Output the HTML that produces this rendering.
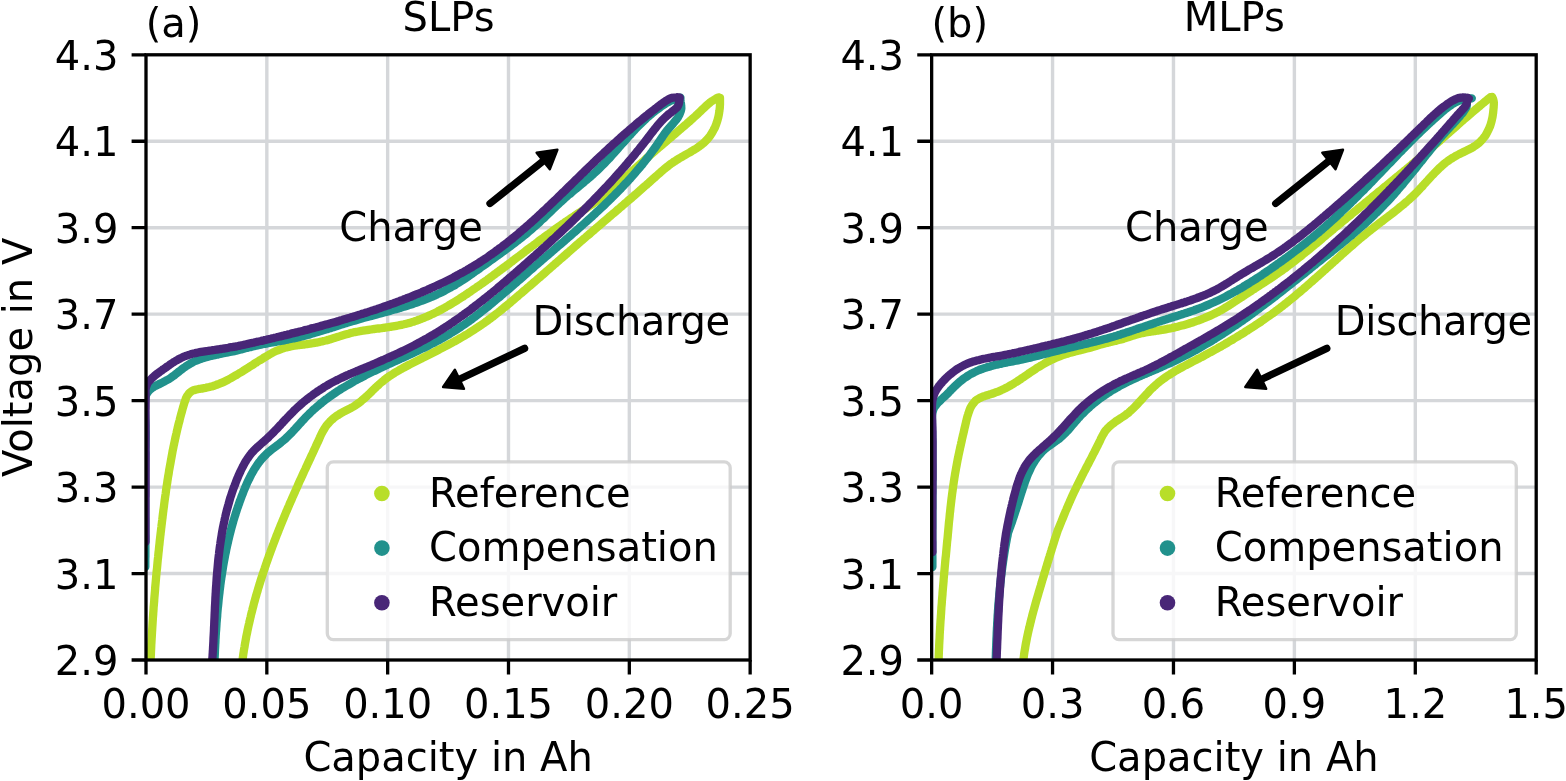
<!DOCTYPE html>
<html lang="en"><head><meta charset="utf-8"><title>Voltage curves of SLPs and MLPs</title>
<style>html,body{margin:0;padding:0;background:#fff}body{width:1566px;height:781px;overflow:hidden}svg{display:block}text{font-family:'DejaVu Sans', 'Liberation Sans', sans-serif;font-size:40px;fill:#000}</style>
</head><body>
<svg width="1566" height="781" viewBox="0 0 1566 781">
<rect width="1566" height="781" fill="#fff"/>
<g>
<clipPath id="clip0"><rect x="146.00" y="54.80" width="604.15" height="605.20"/></clipPath>
<path d="M266.83 54.80V660.00M387.66 54.80V660.00M508.49 54.80V660.00M629.32 54.80V660.00M146.00 141.26H750.15M146.00 227.71H750.15M146.00 314.17H750.15M146.00 400.63H750.15M146.00 487.09H750.15M146.00 573.54H750.15" stroke="#d5d7da" stroke-width="3.4" fill="none"/>
<g clip-path="url(#clip0)" fill="none" stroke-linecap="round" stroke-linejoin="round">
<path d="M150.3 667.8C150.3 667.3 150.4 665.6 150.4 664.5C150.5 663.4 150.5 662.3 150.6 661.2C150.6 660.1 150.7 659.0 150.7 657.9C150.8 656.8 150.8 655.6 150.9 654.5C150.9 653.4 151.0 652.3 151.0 651.2C151.1 650.1 151.1 649.0 151.2 647.9C151.2 646.8 151.3 645.7 151.3 644.5C151.4 643.4 151.5 642.3 151.5 641.2C151.6 640.1 151.6 639.0 151.7 637.9C151.8 636.7 151.8 635.6 151.9 634.5C152.0 633.4 152.0 632.3 152.1 631.2C152.2 630.1 152.2 628.9 152.3 627.8C152.4 626.7 152.4 625.6 152.5 624.5C152.6 623.4 152.6 622.2 152.7 621.1C152.8 620.0 152.9 618.9 152.9 617.8C153.0 616.7 153.1 615.5 153.2 614.4C153.2 613.3 153.3 612.2 153.4 611.1C153.5 609.9 153.6 608.8 153.6 607.7C153.7 606.6 153.8 605.5 153.9 604.3C154.0 603.2 154.1 602.1 154.2 601.0C154.2 599.9 154.3 598.7 154.4 597.6C154.5 596.5 154.6 595.4 154.7 594.2C154.8 593.1 154.9 592.0 155.0 590.9C155.1 589.8 155.1 588.6 155.2 587.5C155.3 586.4 155.4 585.3 155.5 584.1C155.6 583.0 155.7 581.9 155.8 580.8C155.9 579.7 156.0 578.5 156.1 577.4C156.2 576.3 156.3 575.2 156.4 574.0C156.5 572.9 156.6 571.8 156.7 570.7C156.9 569.6 157.0 568.4 157.1 567.3C157.2 566.2 157.3 565.1 157.4 563.9C157.5 562.8 157.6 561.7 157.7 560.6C157.8 559.4 157.9 558.3 158.1 557.2C158.2 556.1 158.3 555.0 158.4 553.8C158.5 552.7 158.6 551.6 158.8 550.5C158.9 549.3 159.0 548.2 159.1 547.1C159.2 546.0 159.4 544.9 159.5 543.7C159.6 542.6 159.7 541.5 159.8 540.4C160.0 539.2 160.1 538.1 160.2 537.0C160.3 535.9 160.5 534.8 160.6 533.6C160.7 532.5 160.9 531.4 161.0 530.3C161.1 529.2 161.2 528.0 161.4 526.9C161.5 525.8 161.6 524.7 161.8 523.6C161.9 522.4 162.0 521.3 162.2 520.2C162.3 519.1 162.5 518.0 162.6 516.8C162.7 515.7 162.9 514.6 163.0 513.5C163.1 512.4 163.3 511.3 163.4 510.1C163.6 509.0 163.7 507.9 163.9 506.8C164.0 505.7 164.1 504.6 164.3 503.4C164.4 502.3 164.6 501.2 164.7 500.1C164.9 499.0 165.0 497.9 165.2 496.7C165.3 495.6 165.5 494.5 165.7 493.4C165.8 492.3 166.0 491.2 166.1 490.1C166.3 488.9 166.4 487.8 166.6 486.7C166.8 485.6 166.9 484.5 167.1 483.4C167.3 482.3 167.4 481.2 167.6 480.0C167.8 478.9 168.0 477.8 168.1 476.7C168.3 475.6 168.5 474.5 168.7 473.4C168.9 472.3 169.0 471.2 169.2 470.1C169.4 468.9 169.6 467.8 169.8 466.7C170.0 465.6 170.2 464.5 170.4 463.4C170.6 462.3 170.8 461.2 171.0 460.1C171.2 459.0 171.4 457.9 171.6 456.7C171.8 455.6 172.0 454.5 172.2 453.4C172.4 452.3 172.6 451.2 172.8 450.1C173.1 449.0 173.3 447.9 173.5 446.8C173.7 445.7 174.0 444.6 174.2 443.5C174.4 442.4 174.7 441.3 174.9 440.2C175.1 439.1 175.4 438.0 175.6 436.8C175.9 435.7 176.1 434.6 176.4 433.5C176.6 432.4 176.9 431.3 177.1 430.2C177.4 429.1 177.6 428.0 177.9 426.9C178.2 425.8 178.4 424.7 178.7 423.6C179.0 422.5 179.3 421.4 179.6 420.3C179.8 419.2 180.1 418.1 180.4 417.0C180.7 415.9 181.0 414.8 181.3 413.7C181.6 412.6 181.9 411.5 182.2 410.4C182.5 409.3 182.8 408.2 183.1 407.1C183.4 406.0 183.8 404.9 184.1 403.8C184.4 402.7 184.8 401.7 185.2 400.6C185.5 399.5 185.8 398.4 186.3 397.4C186.7 396.4 187.3 395.5 188.0 394.7C188.6 393.9 189.3 393.1 190.1 392.4C190.9 391.7 191.7 391.0 192.7 390.6C193.7 390.1 195.0 389.9 196.1 389.6C197.2 389.3 198.4 389.1 199.5 388.8C200.6 388.6 201.8 388.5 202.9 388.3C204.0 388.1 205.1 388.0 206.2 387.7C207.3 387.5 208.4 387.3 209.5 387.0C210.5 386.7 211.6 386.5 212.7 386.2C213.8 385.8 214.8 385.5 215.8 385.1C216.9 384.7 217.9 384.3 219.0 383.9C220.0 383.5 221.0 383.1 222.1 382.6C223.1 382.2 224.1 381.7 225.1 381.2C226.1 380.7 227.1 380.2 228.1 379.7C229.1 379.1 230.1 378.6 231.1 378.1C232.1 377.5 233.1 377.0 234.0 376.4C235.0 375.8 236.0 375.3 236.9 374.7C237.9 374.1 238.9 373.5 239.8 372.9C240.8 372.4 241.7 371.8 242.7 371.2C243.6 370.6 244.6 370.0 245.5 369.4C246.5 368.8 247.4 368.2 248.4 367.6C249.3 367.0 250.2 366.4 251.2 365.8C252.1 365.2 253.1 364.6 254.0 364.0C254.9 363.4 255.9 362.8 256.8 362.2C257.8 361.6 258.7 361.0 259.6 360.4C260.6 359.8 261.5 359.3 262.5 358.7C263.4 358.1 264.4 357.5 265.4 356.9C266.3 356.3 267.3 355.8 268.3 355.2C269.2 354.6 270.2 354.1 271.2 353.5C272.2 353.0 273.2 352.4 274.2 351.9C275.2 351.4 276.2 350.9 277.2 350.5C278.3 350.1 279.3 349.7 280.3 349.3C281.4 348.9 282.4 348.5 283.5 348.2C284.5 347.9 285.6 347.6 286.7 347.3C287.8 347.1 288.9 346.8 289.9 346.6C291.0 346.4 292.1 346.1 293.2 345.9C294.3 345.8 295.4 345.6 296.5 345.4C297.6 345.3 298.7 345.1 299.8 345.0C301.0 344.8 302.1 344.7 303.2 344.5C304.3 344.4 305.4 344.2 306.5 344.1C307.6 343.9 308.7 343.8 309.9 343.6C311.0 343.5 312.1 343.3 313.2 343.2C314.3 343.0 315.4 342.8 316.5 342.6C317.6 342.4 318.7 342.2 319.8 341.9C320.8 341.7 321.9 341.5 323.0 341.2C324.1 341.0 325.2 340.7 326.2 340.4C327.3 340.1 328.4 339.8 329.4 339.5C330.5 339.1 331.6 338.8 332.6 338.5C333.7 338.2 334.7 337.8 335.8 337.5C336.9 337.2 337.9 336.8 339.0 336.5C340.0 336.2 341.1 335.8 342.2 335.5C343.2 335.2 344.3 334.9 345.3 334.6C346.4 334.3 347.5 334.0 348.6 333.7C349.6 333.4 350.7 333.1 351.8 332.8C352.8 332.6 353.9 332.4 355.0 332.1C356.1 331.9 357.2 331.7 358.3 331.5C359.4 331.2 360.5 331.0 361.6 330.8C362.7 330.7 363.8 330.5 364.9 330.3C366.0 330.1 367.1 330.0 368.2 329.8C369.3 329.7 370.4 329.5 371.5 329.4C372.6 329.2 373.8 329.1 374.9 328.9C376.0 328.8 377.1 328.6 378.2 328.5C379.3 328.4 380.4 328.2 381.5 328.1C382.6 327.9 383.8 327.8 384.9 327.6C386.0 327.5 387.1 327.3 388.2 327.2C389.3 327.0 390.4 326.9 391.5 326.7C392.6 326.5 393.7 326.3 394.8 326.1C395.9 325.9 397.0 325.7 398.1 325.5C399.2 325.3 400.3 325.1 401.4 324.9C402.5 324.6 403.6 324.4 404.6 324.1C405.7 323.8 406.8 323.6 407.9 323.3C408.9 323.0 410.0 322.7 411.1 322.4C412.2 322.1 413.2 321.7 414.3 321.4C415.3 321.0 416.4 320.7 417.4 320.3C418.5 319.9 419.5 319.6 420.6 319.2C421.6 318.8 422.7 318.3 423.7 317.9C424.7 317.5 425.8 317.1 426.8 316.6C427.8 316.2 428.9 315.8 429.9 315.3C430.9 314.8 431.9 314.3 433.0 313.8C434.0 313.4 435.0 312.9 436.0 312.4C437.0 311.9 438.0 311.3 439.0 310.8C440.0 310.3 441.0 309.7 442.0 309.2C443.0 308.7 444.0 308.1 445.0 307.6C446.0 307.0 447.0 306.4 448.0 305.9C448.9 305.3 449.9 304.7 450.9 304.1C451.9 303.5 452.8 302.9 453.8 302.4C454.8 301.8 455.7 301.2 456.7 300.6C457.7 300.0 458.6 299.3 459.6 298.7C460.5 298.1 461.5 297.5 462.4 296.9C463.4 296.3 464.3 295.6 465.3 295.0C466.2 294.4 467.2 293.8 468.1 293.1C469.0 292.5 470.0 291.9 470.9 291.2C471.9 290.6 472.8 290.0 473.7 289.3C474.6 288.7 475.6 288.0 476.5 287.4C477.4 286.7 478.3 286.1 479.3 285.5C480.2 284.8 481.1 284.2 482.0 283.5C482.9 282.9 483.8 282.2 484.8 281.5C485.7 280.9 486.6 280.2 487.5 279.6C488.4 278.9 489.3 278.3 490.2 277.6C491.1 276.9 492.0 276.3 492.9 275.6C493.8 275.0 494.7 274.3 495.6 273.6C496.5 273.0 497.4 272.3 498.3 271.6C499.2 271.0 500.1 270.3 501.0 269.6C501.9 269.0 502.8 268.3 503.7 267.6C504.6 266.9 505.5 266.3 506.4 265.6C507.3 264.9 508.2 264.3 509.1 263.6C510.0 262.9 510.9 262.2 511.8 261.6C512.7 260.9 513.5 260.2 514.4 259.5C515.3 258.9 516.2 258.2 517.1 257.5C518.0 256.8 518.9 256.2 519.8 255.5C520.7 254.8 521.6 254.1 522.5 253.5C523.3 252.8 524.2 252.1 525.1 251.4C526.0 250.8 526.9 250.1 527.8 249.4C528.7 248.7 529.6 248.1 530.5 247.4C531.4 246.7 532.3 246.0 533.2 245.4C534.1 244.7 535.0 244.0 535.9 243.4C536.8 242.7 537.6 242.0 538.5 241.3C539.4 240.7 540.3 240.0 541.2 239.3C542.1 238.7 543.1 238.0 544.0 237.3C544.9 236.7 545.8 236.0 546.7 235.3C547.6 234.7 548.5 234.0 549.4 233.4C550.3 232.7 551.2 232.0 552.1 231.4C553.0 230.7 554.0 230.0 554.9 229.4C555.8 228.7 556.7 228.1 557.6 227.4C558.5 226.8 559.5 226.1 560.4 225.5C561.3 224.8 562.2 224.2 563.2 223.5C564.1 222.9 565.0 222.2 566.0 221.6C566.9 221.0 567.8 220.3 568.8 219.7C569.7 219.0 570.7 218.4 571.6 217.8C572.5 217.2 573.5 216.5 574.4 215.9C575.4 215.3 576.3 214.7 577.3 214.0C578.2 213.4 579.2 212.8 580.1 212.2C581.1 211.6 582.1 210.9 583.0 210.3C584.0 209.7 584.9 209.1 585.9 208.5C586.8 207.8 587.8 207.2 588.7 206.6C589.7 206.0 590.6 205.3 591.5 204.7C592.5 204.1 593.4 203.4 594.3 202.8C595.3 202.2 596.2 201.5 597.1 200.9C598.1 200.2 599.0 199.6 599.9 198.9C600.8 198.3 601.7 197.6 602.6 196.9C603.5 196.3 604.5 195.6 605.3 194.9C606.2 194.2 607.1 193.5 608.0 192.8C608.9 192.1 609.7 191.4 610.6 190.7C611.5 190.0 612.3 189.3 613.2 188.5C614.0 187.8 614.9 187.1 615.7 186.3C616.6 185.6 617.4 184.8 618.2 184.1C619.1 183.4 619.9 182.6 620.7 181.9C621.6 181.1 622.4 180.3 623.2 179.6C624.0 178.8 624.8 178.1 625.7 177.3C626.5 176.6 627.3 175.8 628.1 175.1C628.9 174.3 629.7 173.6 630.5 172.8C631.3 172.1 632.2 171.3 633.0 170.6C633.8 169.8 634.6 169.1 635.4 168.3C636.2 167.6 637.0 166.8 637.9 166.1C638.7 165.4 639.5 164.6 640.3 163.9C641.1 163.2 642.0 162.4 642.8 161.7C643.6 161.0 644.4 160.2 645.3 159.5C646.1 158.8 646.9 158.1 647.7 157.3C648.6 156.6 649.4 155.9 650.2 155.2C651.1 154.4 651.9 153.7 652.7 153.0C653.6 152.3 654.4 151.5 655.2 150.8C656.1 150.1 656.9 149.4 657.7 148.7C658.6 147.9 659.4 147.2 660.3 146.5C661.1 145.8 662.0 145.0 662.8 144.3C663.7 143.6 664.5 142.9 665.4 142.1C666.2 141.4 667.1 140.7 667.9 140.0C668.8 139.2 669.6 138.5 670.5 137.8C671.4 137.0 672.2 136.3 673.1 135.5C673.9 134.8 674.8 134.1 675.7 133.3C676.5 132.6 677.4 131.9 678.2 131.1C679.1 130.4 679.9 129.7 680.8 128.9C681.7 128.2 682.5 127.5 683.4 126.7C684.2 126.0 685.1 125.3 685.9 124.5C686.7 123.8 687.6 123.1 688.4 122.3C689.3 121.6 690.1 120.8 690.9 120.1C691.8 119.3 692.6 118.6 693.4 117.9C694.2 117.1 695.1 116.4 695.9 115.6C696.7 114.9 697.5 114.1 698.3 113.4C699.1 112.6 699.9 111.8 700.7 111.1C701.5 110.3 702.3 109.6 703.0 108.8C703.8 108.1 704.6 107.3 705.4 106.6C706.2 105.8 707.0 105.1 707.8 104.4C708.6 103.7 709.4 103.0 710.2 102.4C711.0 101.7 711.9 101.2 712.8 100.6C713.7 100.1 714.6 99.5 715.6 99.0C716.5 98.4 718.0 97.6 718.5 97.3" stroke="#b8de29" stroke-width="8.3"/>
<path d="M720.0 97.8C720.0 98.4 720.0 100.0 720.0 101.1C720.0 102.2 720.0 103.3 720.0 104.4C719.9 105.5 719.9 106.7 719.8 107.8C719.7 108.9 719.5 110.0 719.4 111.1C719.2 112.2 719.1 113.2 718.9 114.3C718.7 115.4 718.5 116.5 718.2 117.6C718.0 118.7 717.6 119.7 717.3 120.8C717.0 121.9 716.6 122.9 716.3 124.0C715.9 125.0 715.5 126.0 715.1 127.1C714.6 128.1 714.1 129.0 713.6 130.0C713.1 131.0 712.5 131.9 712.0 132.9C711.4 133.8 710.9 134.8 710.2 135.7C709.6 136.6 708.9 137.4 708.2 138.2C707.4 139.1 706.7 139.9 705.9 140.7C705.2 141.5 704.4 142.2 703.6 143.0C702.7 143.7 701.8 144.4 700.9 145.1C700.1 145.7 699.1 146.4 698.2 147.1C697.3 147.7 696.4 148.4 695.4 149.0C694.4 149.6 693.4 150.2 692.4 150.8C691.4 151.4 690.5 152.0 689.4 152.6C688.4 153.1 687.4 153.7 686.4 154.3C685.4 154.9 684.4 155.4 683.4 156.0C682.4 156.6 681.4 157.2 680.4 157.8C679.4 158.4 678.3 158.9 677.4 159.5C676.4 160.2 675.4 160.8 674.5 161.4C673.5 162.0 672.6 162.7 671.7 163.3C670.8 164.0 669.8 164.6 668.9 165.3C668.1 166.0 667.2 166.7 666.3 167.4C665.5 168.1 664.6 168.8 663.7 169.5C662.9 170.2 662.0 171.0 661.2 171.7C660.4 172.4 659.5 173.2 658.7 173.9C657.9 174.6 657.0 175.4 656.2 176.1C655.4 176.8 654.6 177.6 653.7 178.3C652.9 179.1 652.1 179.8 651.2 180.5C650.4 181.3 649.6 182.0 648.8 182.8C647.9 183.5 647.1 184.2 646.3 185.0C645.4 185.7 644.6 186.4 643.7 187.2C642.9 187.9 642.1 188.6 641.2 189.4C640.4 190.1 639.6 190.8 638.7 191.6C637.9 192.3 637.1 193.0 636.2 193.8C635.4 194.5 634.5 195.2 633.7 196.0C632.8 196.7 632.0 197.4 631.2 198.2C630.3 198.9 629.5 199.6 628.6 200.3C627.8 201.1 626.9 201.8 626.1 202.5C625.3 203.3 624.4 204.0 623.6 204.7C622.7 205.4 621.9 206.2 621.0 206.9C620.2 207.6 619.3 208.4 618.5 209.1C617.6 209.8 616.8 210.5 615.9 211.3C615.1 212.0 614.3 212.7 613.4 213.4C612.6 214.2 611.7 214.9 610.9 215.6C610.0 216.3 609.2 217.1 608.3 217.8C607.5 218.5 606.6 219.3 605.8 220.0C604.9 220.7 604.1 221.4 603.2 222.2C602.4 222.9 601.5 223.6 600.7 224.3C599.8 225.1 599.0 225.8 598.1 226.5C597.3 227.2 596.4 228.0 595.6 228.7C594.7 229.4 593.9 230.2 593.0 230.9C592.2 231.6 591.3 232.3 590.5 233.1C589.6 233.8 588.8 234.5 588.0 235.3C587.1 236.0 586.3 236.7 585.4 237.5C584.6 238.2 583.7 238.9 582.9 239.6C582.0 240.4 581.2 241.1 580.3 241.8C579.5 242.6 578.7 243.3 577.8 244.0C577.0 244.8 576.1 245.5 575.3 246.2C574.4 247.0 573.6 247.7 572.7 248.5C571.9 249.2 571.1 249.9 570.2 250.7C569.4 251.4 568.5 252.1 567.7 252.9C566.8 253.6 566.0 254.3 565.2 255.1C564.3 255.8 563.5 256.5 562.6 257.3C561.8 258.0 560.9 258.8 560.1 259.5C559.3 260.2 558.4 261.0 557.6 261.7C556.7 262.4 555.9 263.2 555.0 263.9C554.2 264.7 553.4 265.4 552.5 266.1C551.7 266.9 550.8 267.6 550.0 268.3C549.1 269.1 548.3 269.8 547.5 270.5C546.6 271.3 545.8 272.0 544.9 272.8C544.1 273.5 543.2 274.2 542.4 275.0C541.5 275.7 540.7 276.4 539.9 277.2C539.0 277.9 538.2 278.6 537.3 279.4C536.5 280.1 535.6 280.8 534.8 281.6C533.9 282.3 533.1 283.0 532.2 283.8C531.4 284.5 530.5 285.2 529.7 286.0C528.8 286.7 528.0 287.4 527.1 288.2C526.3 288.9 525.4 289.6 524.6 290.4C523.7 291.1 522.9 291.8 522.0 292.6C521.2 293.3 520.3 294.0 519.5 294.7C518.6 295.5 517.7 296.2 516.9 296.9C516.0 297.7 515.2 298.4 514.3 299.1C513.5 299.8 512.6 300.6 511.7 301.3C510.9 302.0 510.0 302.7 509.2 303.5C508.3 304.2 507.4 304.9 506.6 305.6C505.7 306.3 504.8 307.0 504.0 307.7C503.1 308.5 502.2 309.2 501.4 309.9C500.5 310.6 499.6 311.3 498.7 312.0C497.9 312.7 497.0 313.3 496.1 314.0C495.2 314.7 494.3 315.4 493.5 316.1C492.6 316.8 491.7 317.4 490.8 318.1C489.9 318.8 489.0 319.4 488.1 320.1C487.2 320.8 486.3 321.4 485.4 322.1C484.5 322.7 483.6 323.4 482.6 324.0C481.7 324.7 480.8 325.3 479.9 325.9C479.0 326.6 478.1 327.2 477.1 327.8C476.2 328.4 475.3 329.0 474.3 329.6C473.4 330.2 472.4 330.8 471.5 331.4C470.6 332.0 469.6 332.6 468.7 333.2C467.7 333.8 466.8 334.4 465.8 334.9C464.8 335.5 463.9 336.1 462.9 336.6C462.0 337.2 461.0 337.8 460.0 338.3C459.1 338.9 458.1 339.4 457.1 340.0C456.1 340.5 455.2 341.0 454.2 341.6C453.2 342.1 452.2 342.7 451.2 343.2C450.3 343.7 449.3 344.3 448.3 344.8C447.3 345.3 446.3 345.8 445.3 346.3C444.3 346.9 443.4 347.4 442.4 347.9C441.4 348.4 440.4 348.9 439.4 349.4C438.4 350.0 437.4 350.5 436.4 351.0C435.4 351.5 434.4 352.0 433.4 352.5C432.4 353.0 431.4 353.5 430.4 354.0C429.4 354.5 428.4 355.0 427.4 355.5C426.4 356.0 425.4 356.5 424.4 357.0C423.4 357.5 422.4 358.0 421.4 358.6C420.4 359.1 419.4 359.6 418.4 360.1C417.4 360.6 416.4 361.1 415.4 361.6C414.4 362.1 413.4 362.6 412.4 363.1C411.4 363.6 410.4 364.1 409.4 364.6C408.4 365.2 407.4 365.7 406.4 366.2C405.4 366.7 404.4 367.3 403.4 367.8C402.4 368.3 401.5 368.9 400.5 369.4C399.5 370.0 398.5 370.5 397.6 371.1C396.6 371.6 395.7 372.2 394.7 372.8C393.8 373.4 392.8 374.0 391.9 374.6C391.0 375.2 390.0 375.8 389.1 376.4C388.2 377.1 387.3 377.7 386.4 378.4C385.5 379.1 384.6 379.7 383.8 380.4C382.9 381.1 382.0 381.8 381.2 382.5C380.3 383.3 379.5 384.0 378.7 384.8C377.9 385.5 377.0 386.3 376.2 387.0C375.4 387.8 374.6 388.6 373.8 389.4C373.0 390.1 372.2 390.9 371.4 391.7C370.6 392.5 369.8 393.3 369.0 394.1C368.2 394.8 367.4 395.6 366.6 396.4C365.7 397.1 364.9 397.9 364.1 398.6C363.2 399.3 362.4 400.1 361.5 400.8C360.7 401.5 359.8 402.2 358.9 402.9C358.1 403.5 357.1 404.2 356.2 404.8C355.3 405.4 354.3 406.0 353.4 406.6C352.4 407.1 351.5 407.7 350.5 408.2C349.5 408.8 348.5 409.3 347.5 409.8C346.5 410.3 345.5 410.8 344.5 411.3C343.5 411.9 342.4 412.4 341.5 412.9C340.5 413.5 339.5 414.1 338.6 414.7C337.7 415.3 336.7 415.9 335.8 416.5C334.9 417.2 334.0 417.8 333.2 418.6C332.3 419.3 331.5 420.1 330.7 420.8C330.0 421.6 329.2 422.4 328.5 423.2C327.7 424.1 327.0 424.9 326.3 425.8C325.6 426.7 325.1 427.6 324.5 428.6C323.9 429.5 323.3 430.5 322.8 431.5C322.2 432.5 321.7 433.5 321.2 434.5C320.7 435.5 320.2 436.6 319.8 437.6C319.3 438.7 318.8 439.7 318.4 440.8C317.9 441.8 317.4 442.8 316.9 443.9C316.5 444.9 316.0 445.9 315.5 447.0C315.0 448.0 314.6 449.0 314.1 450.1C313.6 451.1 313.1 452.1 312.7 453.1C312.2 454.2 311.7 455.2 311.2 456.2C310.8 457.2 310.3 458.3 309.8 459.3C309.3 460.3 308.9 461.3 308.4 462.3C307.9 463.4 307.5 464.4 307.0 465.4C306.5 466.4 306.0 467.4 305.6 468.5C305.1 469.5 304.6 470.5 304.1 471.5C303.7 472.5 303.2 473.6 302.7 474.6C302.3 475.6 301.8 476.6 301.3 477.7C300.9 478.7 300.4 479.7 299.9 480.7C299.5 481.8 299.0 482.8 298.5 483.8C298.1 484.8 297.6 485.9 297.2 486.9C296.7 487.9 296.2 489.0 295.8 490.0C295.3 491.0 294.9 492.1 294.4 493.1C293.9 494.1 293.5 495.1 293.0 496.2C292.6 497.2 292.1 498.2 291.7 499.3C291.2 500.3 290.8 501.4 290.3 502.4C289.9 503.4 289.4 504.5 289.0 505.5C288.5 506.5 288.1 507.6 287.6 508.6C287.2 509.7 286.8 510.7 286.3 511.7C285.9 512.8 285.5 513.8 285.0 514.9C284.6 515.9 284.1 516.9 283.7 518.0C283.3 519.0 282.8 520.1 282.4 521.1C282.0 522.2 281.6 523.2 281.1 524.3C280.7 525.3 280.3 526.3 279.9 527.4C279.4 528.4 279.0 529.5 278.6 530.5C278.2 531.6 277.8 532.6 277.4 533.7C276.9 534.7 276.5 535.8 276.1 536.8C275.7 537.9 275.3 539.0 274.9 540.0C274.5 541.1 274.1 542.1 273.7 543.2C273.3 544.2 272.9 545.3 272.5 546.3C272.1 547.4 271.7 548.4 271.3 549.5C270.9 550.6 270.5 551.6 270.2 552.7C269.8 553.7 269.4 554.8 269.0 555.9C268.6 556.9 268.3 558.0 267.9 559.0C267.5 560.1 267.1 561.2 266.8 562.2C266.4 563.3 266.0 564.3 265.7 565.4C265.3 566.5 264.9 567.5 264.6 568.6C264.2 569.7 263.9 570.7 263.5 571.8C263.2 572.9 262.8 573.9 262.5 575.0C262.1 576.1 261.8 577.1 261.4 578.2C261.1 579.3 260.7 580.4 260.4 581.4C260.1 582.5 259.7 583.6 259.4 584.6C259.1 585.7 258.8 586.8 258.4 587.9C258.1 588.9 257.8 590.0 257.5 591.1C257.2 592.2 256.8 593.2 256.5 594.3C256.2 595.4 255.9 596.5 255.6 597.5C255.3 598.6 255.0 599.7 254.7 600.8C254.4 601.9 254.1 602.9 253.8 604.0C253.6 605.1 253.3 606.2 253.0 607.3C252.7 608.3 252.4 609.4 252.2 610.5C251.9 611.6 251.6 612.7 251.3 613.8C251.1 614.8 250.8 615.9 250.6 617.0C250.3 618.1 250.1 619.2 249.8 620.3C249.5 621.4 249.3 622.4 249.1 623.5C248.8 624.6 248.6 625.7 248.3 626.8C248.1 627.9 247.9 629.0 247.6 630.1C247.4 631.2 247.2 632.2 247.0 633.3C246.8 634.4 246.5 635.5 246.3 636.6C246.1 637.7 245.9 638.8 245.7 639.9C245.5 641.0 245.3 642.1 245.1 643.2C244.9 644.3 244.7 645.4 244.6 646.5C244.4 647.6 244.2 648.7 244.0 649.8C243.8 650.9 243.7 652.0 243.5 653.1C243.3 654.2 243.2 655.3 243.0 656.4C242.9 657.5 242.7 658.6 242.6 659.7C242.4 660.8 242.3 661.9 242.1 663.0C242.0 664.1 241.8 665.8 241.8 666.3" stroke="#b8de29" stroke-width="8.3"/>
<path d="M145.3 567.0C145.3 566.4 145.3 564.7 145.3 563.6C145.3 562.5 145.3 561.4 145.3 560.3C145.3 559.1 145.3 558.0 145.4 556.9C145.4 555.8 145.4 554.6 145.4 553.5C145.4 552.4 145.4 551.3 145.4 550.1C145.4 549.0 145.4 547.9 145.4 546.8C145.4 545.6 145.4 544.5 145.4 543.4C145.4 542.3 145.4 541.1 145.4 540.0C145.4 538.9 145.4 537.8 145.4 536.7C145.4 535.5 145.3 534.4 145.3 533.3C145.3 532.1 145.3 531.0 145.3 529.9C145.3 528.8 145.3 527.6 145.3 526.5C145.3 525.4 145.3 524.3 145.3 523.1C145.3 522.0 145.3 520.9 145.3 519.8C145.3 518.6 145.3 517.5 145.2 516.4C145.2 515.3 145.2 514.1 145.2 513.0C145.2 511.9 145.2 510.8 145.2 509.6C145.2 508.5 145.2 507.4 145.2 506.3C145.2 505.1 145.2 504.0 145.2 502.9C145.2 501.8 145.2 500.6 145.2 499.5C145.1 498.4 145.1 497.3 145.1 496.1C145.1 495.0 145.1 493.9 145.1 492.8C145.1 491.6 145.1 490.5 145.1 489.4C145.1 488.3 145.1 487.1 145.1 486.0C145.1 484.9 145.1 483.8 145.1 482.6C145.1 481.5 145.1 480.4 145.1 479.3C145.1 478.1 145.1 477.0 145.1 475.9C145.1 474.8 145.1 473.7 145.1 472.5C145.2 471.4 145.2 470.3 145.2 469.2C145.2 468.0 145.2 466.9 145.2 465.8C145.2 464.7 145.2 463.5 145.2 462.4C145.3 461.3 145.3 460.2 145.3 459.1C145.3 457.9 145.3 456.8 145.3 455.7C145.4 454.6 145.4 453.5 145.4 452.3C145.4 451.2 145.4 450.1 145.4 449.0C145.5 447.8 145.5 446.7 145.5 445.6C145.5 444.5 145.5 443.4 145.5 442.2C145.5 441.1 145.6 440.0 145.6 438.9C145.6 437.7 145.6 436.6 145.6 435.5C145.6 434.4 145.6 433.2 145.6 432.1C145.6 431.0 145.5 429.9 145.5 428.7C145.5 427.6 145.5 426.5 145.5 425.4C145.4 424.2 145.4 423.1 145.4 422.0C145.3 420.8 145.3 419.7 145.2 418.6C145.2 417.5 145.1 416.3 145.1 415.2C145.0 414.1 145.0 412.9 145.0 411.8C144.9 410.7 144.9 409.5 144.9 408.4C144.9 407.3 144.8 406.1 144.8 405.0C144.9 403.9 144.9 402.7 145.0 401.6C145.1 400.5 145.2 399.4 145.4 398.3C145.6 397.2 145.6 396.1 146.0 395.1C146.4 394.1 147.1 393.2 147.7 392.3C148.3 391.5 149.0 390.7 149.8 389.9C150.6 389.1 151.4 388.4 152.3 387.7C153.2 387.1 154.3 386.6 155.3 386.0C156.3 385.5 157.3 385.0 158.3 384.5C159.4 383.9 160.5 383.5 161.5 383.0C162.5 382.5 163.6 382.0 164.6 381.4C165.6 380.9 166.6 380.4 167.6 379.8C168.6 379.2 169.5 378.6 170.5 378.0C171.4 377.4 172.3 376.7 173.2 376.0C174.1 375.4 174.9 374.7 175.8 374.0C176.7 373.3 177.6 372.6 178.5 371.9C179.4 371.2 180.2 370.5 181.1 369.9C182.0 369.2 182.9 368.5 183.8 367.8C184.8 367.2 185.7 366.5 186.6 365.9C187.5 365.2 188.5 364.7 189.5 364.1C190.4 363.5 191.4 363.0 192.4 362.5C193.4 361.9 194.4 361.4 195.4 361.0C196.5 360.5 197.5 360.1 198.6 359.8C199.7 359.4 200.7 359.0 201.8 358.6C202.9 358.3 203.9 357.9 205.0 357.6C206.1 357.3 207.2 357.0 208.3 356.7C209.4 356.5 210.5 356.2 211.5 355.9C212.6 355.7 213.7 355.4 214.8 355.2C215.9 354.9 217.0 354.7 218.1 354.4C219.2 354.2 220.3 354.0 221.4 353.7C222.5 353.5 223.6 353.3 224.7 353.0C225.8 352.8 226.9 352.6 228.0 352.4C229.1 352.2 230.2 351.9 231.3 351.7C232.4 351.5 233.6 351.3 234.7 351.1C235.7 350.8 236.8 350.5 237.9 350.2C239.0 349.9 240.1 349.6 241.2 349.4C242.3 349.1 243.4 348.8 244.5 348.5C245.5 348.2 246.6 348.0 247.7 347.7C248.8 347.4 249.9 347.2 251.0 346.9C252.1 346.6 253.2 346.4 254.3 346.1C255.4 345.9 256.5 345.6 257.6 345.4C258.7 345.2 259.8 344.9 260.9 344.7C262.0 344.4 263.1 344.2 264.2 344.0C265.3 343.8 266.4 343.5 267.5 343.3C268.6 343.1 269.7 342.9 270.8 342.7C271.9 342.5 273.0 342.3 274.1 342.1C275.2 341.9 276.3 341.7 277.4 341.5C278.5 341.3 279.6 341.1 280.8 340.9C281.9 340.7 283.0 340.5 284.1 340.3C285.2 340.1 286.3 339.9 287.4 339.7C288.5 339.4 289.6 339.2 290.7 339.0C291.8 338.8 292.9 338.6 294.0 338.3C295.1 338.1 296.2 337.8 297.3 337.6C298.3 337.3 299.4 337.0 300.5 336.8C301.6 336.5 302.7 336.2 303.8 335.9C304.9 335.7 305.9 335.4 307.0 335.1C308.1 334.8 309.2 334.5 310.2 334.2C311.3 333.9 312.4 333.6 313.5 333.2C314.5 332.9 315.6 332.6 316.7 332.3C317.8 332.0 318.8 331.6 319.9 331.3C321.0 331.0 322.0 330.7 323.1 330.3C324.2 330.0 325.2 329.7 326.3 329.3C327.4 329.0 328.5 328.6 329.5 328.3C330.6 328.0 331.7 327.6 332.7 327.3C333.8 327.0 334.9 326.6 335.9 326.3C337.0 325.9 338.1 325.6 339.1 325.3C340.2 324.9 341.3 324.6 342.4 324.3C343.4 323.9 344.5 323.6 345.6 323.3C346.6 322.9 347.7 322.6 348.8 322.3C349.9 322.0 350.9 321.6 352.0 321.3C353.1 321.0 354.2 320.7 355.3 320.4C356.3 320.1 357.4 319.8 358.5 319.4C359.6 319.1 360.7 318.8 361.8 318.5C362.8 318.2 363.9 317.9 365.0 317.6C366.1 317.3 367.2 317.0 368.3 316.7C369.4 316.4 370.4 316.1 371.5 315.9C372.6 315.6 373.7 315.3 374.8 315.0C375.9 314.7 377.0 314.4 378.0 314.1C379.1 313.8 380.2 313.5 381.3 313.2C382.4 312.9 383.5 312.6 384.6 312.3C385.6 312.0 386.7 311.7 387.8 311.4C388.9 311.1 390.0 310.8 391.0 310.5C392.1 310.2 393.2 309.9 394.3 309.6C395.4 309.3 396.4 309.0 397.5 308.7C398.6 308.4 399.7 308.0 400.7 307.7C401.8 307.4 402.9 307.1 403.9 306.7C405.0 306.4 406.1 306.1 407.1 305.8C408.2 305.4 409.3 305.1 410.3 304.7C411.4 304.4 412.4 304.0 413.5 303.7C414.6 303.3 415.6 303.0 416.7 302.6C417.7 302.2 418.8 301.9 419.8 301.5C420.8 301.1 421.9 300.7 422.9 300.3C424.0 299.9 425.0 299.5 426.0 299.1C427.1 298.7 428.1 298.3 429.1 297.9C430.1 297.5 431.2 297.0 432.2 296.6C433.2 296.2 434.2 295.7 435.2 295.3C436.2 294.8 437.2 294.4 438.2 293.9C439.2 293.4 440.2 293.0 441.2 292.5C442.2 292.0 443.2 291.5 444.2 291.0C445.2 290.5 446.2 290.0 447.1 289.4C448.1 288.9 449.1 288.4 450.1 287.8C451.0 287.3 452.0 286.7 452.9 286.2C453.9 285.6 454.9 285.0 455.8 284.5C456.8 283.9 457.7 283.3 458.7 282.7C459.6 282.1 460.6 281.5 461.5 280.9C462.4 280.3 463.4 279.7 464.3 279.1C465.2 278.4 466.2 277.8 467.1 277.2C468.0 276.6 469.0 275.9 469.9 275.3C470.8 274.6 471.7 274.0 472.7 273.3C473.6 272.7 474.5 272.0 475.4 271.4C476.4 270.7 477.3 270.1 478.2 269.4C479.1 268.8 480.0 268.1 481.0 267.4C481.9 266.8 482.8 266.1 483.7 265.5C484.7 264.8 485.6 264.1 486.5 263.5C487.4 262.8 488.4 262.2 489.3 261.5C490.2 260.8 491.1 260.2 492.0 259.5C493.0 258.8 493.9 258.2 494.8 257.5C495.7 256.9 496.7 256.2 497.6 255.5C498.5 254.9 499.4 254.2 500.4 253.5C501.3 252.9 502.2 252.2 503.1 251.5C504.0 250.9 504.9 250.2 505.9 249.5C506.8 248.8 507.7 248.2 508.6 247.5C509.5 246.8 510.4 246.1 511.3 245.5C512.2 244.8 513.1 244.1 514.0 243.4C514.9 242.7 515.8 242.0 516.7 241.3C517.6 240.6 518.5 240.0 519.4 239.3C520.3 238.6 521.2 237.9 522.1 237.2C522.9 236.5 523.8 235.7 524.7 235.0C525.6 234.3 526.4 233.6 527.3 232.9C528.2 232.2 529.0 231.5 529.9 230.7C530.7 230.0 531.6 229.3 532.4 228.5C533.3 227.8 534.1 227.0 534.9 226.3C535.8 225.5 536.6 224.8 537.4 224.1C538.3 223.3 539.1 222.5 539.9 221.8C540.7 221.0 541.5 220.2 542.3 219.5C543.2 218.7 544.0 218.0 544.8 217.2C545.6 216.4 546.4 215.6 547.2 214.9C548.0 214.1 548.8 213.3 549.6 212.6C550.4 211.8 551.2 211.0 552.0 210.2C552.8 209.5 553.6 208.7 554.4 207.9C555.2 207.2 556.0 206.4 556.8 205.6C557.6 204.9 558.4 204.1 559.2 203.4C560.0 202.6 560.8 201.9 561.7 201.1C562.5 200.4 563.3 199.6 564.1 198.9C564.9 198.1 565.8 197.4 566.6 196.7C567.4 195.9 568.3 195.2 569.1 194.5C570.0 193.8 570.8 193.1 571.7 192.4C572.5 191.6 573.4 190.9 574.2 190.2C575.1 189.5 575.9 188.8 576.8 188.1C577.6 187.4 578.5 186.7 579.4 186.0C580.2 185.3 581.1 184.6 581.9 183.8C582.8 183.1 583.6 182.4 584.5 181.7C585.3 181.0 586.2 180.3 587.0 179.6C587.9 178.8 588.7 178.1 589.6 177.4C590.4 176.7 591.3 175.9 592.1 175.2C592.9 174.4 593.8 173.7 594.6 172.9C595.4 172.2 596.2 171.4 597.1 170.6C597.9 169.9 598.7 169.1 599.5 168.3C600.3 167.5 601.1 166.7 601.9 165.9C602.7 165.1 603.5 164.3 604.3 163.5C605.1 162.7 605.8 161.9 606.6 161.0C607.4 160.2 608.2 159.4 609.0 158.6C609.7 157.7 610.5 156.9 611.3 156.0C612.0 155.2 612.8 154.4 613.6 153.5C614.3 152.7 615.1 151.8 615.8 151.0C616.6 150.1 617.4 149.2 618.1 148.4C618.9 147.5 619.6 146.7 620.4 145.8C621.2 145.0 621.9 144.1 622.7 143.2C623.4 142.4 624.2 141.5 625.0 140.7C625.7 139.8 626.5 139.0 627.2 138.1C628.0 137.3 628.8 136.4 629.5 135.6C630.3 134.7 631.1 133.9 631.9 133.0C632.6 132.2 633.4 131.4 634.2 130.5C635.0 129.7 635.8 128.9 636.5 128.1C637.3 127.2 638.1 126.4 638.9 125.6C639.7 124.8 640.5 124.0 641.3 123.2C642.1 122.4 642.9 121.6 643.8 120.9C644.6 120.1 645.4 119.3 646.2 118.5C647.1 117.8 647.9 117.0 648.7 116.3C649.6 115.5 650.4 114.8 651.3 114.1C652.2 113.3 653.0 112.6 653.9 111.9C654.8 111.2 655.7 110.5 656.5 109.9C657.4 109.2 658.3 108.5 659.3 107.9C660.2 107.2 661.1 106.5 662.0 105.9C663.0 105.3 663.9 104.7 664.9 104.1C665.8 103.5 666.8 102.9 667.8 102.3C668.8 101.8 669.7 101.2 670.8 100.7C671.8 100.3 672.9 99.9 674.0 99.5C675.0 99.2 676.1 98.7 677.1 98.4C678.2 98.1 679.9 97.8 680.4 97.6" stroke="#21918c" stroke-width="8.3"/>
<path d="M680.1 98.6C680.2 99.2 680.6 100.9 680.7 102.0C680.9 103.1 681.1 104.2 681.1 105.3C681.2 106.5 681.4 107.6 681.3 108.7C681.2 109.8 680.8 110.8 680.5 111.9C680.2 112.9 679.8 113.9 679.3 114.9C678.9 115.8 678.3 116.8 677.8 117.7C677.2 118.6 676.4 119.5 675.8 120.3C675.1 121.2 674.4 122.1 673.6 122.9C672.9 123.7 672.1 124.6 671.4 125.4C670.7 126.3 669.9 127.1 669.2 128.0C668.4 128.8 667.7 129.7 667.0 130.6C666.3 131.4 665.6 132.3 664.9 133.2C664.3 134.1 663.7 135.1 663.0 136.0C662.4 136.9 661.7 137.8 661.1 138.8C660.5 139.7 659.9 140.6 659.2 141.6C658.6 142.5 658.0 143.4 657.3 144.3C656.7 145.3 656.1 146.2 655.4 147.1C654.8 148.0 654.1 148.9 653.5 149.8C652.8 150.7 652.2 151.6 651.5 152.5C650.8 153.4 650.2 154.3 649.5 155.2C648.8 156.1 648.1 157.0 647.5 157.9C646.8 158.8 646.1 159.6 645.4 160.5C644.7 161.4 644.0 162.3 643.3 163.1C642.6 164.0 641.9 164.9 641.2 165.7C640.5 166.6 639.8 167.4 639.1 168.3C638.4 169.1 637.6 170.0 636.9 170.8C636.2 171.7 635.5 172.5 634.7 173.4C634.0 174.2 633.3 175.1 632.5 175.9C631.8 176.7 631.1 177.6 630.3 178.4C629.6 179.2 628.8 180.0 628.1 180.9C627.3 181.7 626.6 182.5 625.8 183.3C625.0 184.1 624.3 184.9 623.5 185.8C622.7 186.6 622.0 187.4 621.2 188.2C620.4 189.0 619.7 189.8 618.9 190.6C618.1 191.4 617.3 192.2 616.5 193.0C615.7 193.8 615.0 194.6 614.2 195.4C613.4 196.2 612.6 197.0 611.8 197.7C611.0 198.5 610.2 199.3 609.4 200.1C608.6 200.9 607.8 201.7 607.0 202.4C606.2 203.2 605.4 204.0 604.6 204.8C603.8 205.5 603.0 206.3 602.1 207.1C601.3 207.9 600.5 208.6 599.7 209.4C598.9 210.2 598.1 210.9 597.2 211.7C596.4 212.4 595.6 213.2 594.8 214.0C593.9 214.7 593.1 215.5 592.3 216.3C591.5 217.0 590.6 217.8 589.8 218.5C589.0 219.3 588.1 220.0 587.3 220.8C586.5 221.5 585.6 222.3 584.8 223.0C583.9 223.8 583.1 224.5 582.3 225.3C581.4 226.0 580.6 226.8 579.7 227.5C578.9 228.2 578.1 229.0 577.2 229.7C576.4 230.5 575.5 231.2 574.7 232.0C573.8 232.7 573.0 233.4 572.1 234.2C571.3 234.9 570.4 235.7 569.6 236.4C568.7 237.1 567.9 237.9 567.0 238.6C566.2 239.3 565.3 240.1 564.5 240.8C563.6 241.6 562.8 242.3 561.9 243.0C561.1 243.8 560.2 244.5 559.4 245.2C558.5 246.0 557.7 246.7 556.8 247.4C555.9 248.2 555.1 248.9 554.2 249.6C553.4 250.4 552.5 251.1 551.7 251.8C550.8 252.6 550.0 253.3 549.1 254.0C548.3 254.8 547.4 255.5 546.6 256.2C545.7 257.0 544.9 257.7 544.0 258.4C543.2 259.2 542.3 259.9 541.5 260.6C540.6 261.4 539.8 262.1 538.9 262.8C538.1 263.6 537.2 264.3 536.4 265.0C535.5 265.8 534.7 266.5 533.8 267.2C533.0 268.0 532.2 268.7 531.3 269.4C530.5 270.2 529.6 270.9 528.8 271.6C527.9 272.4 527.1 273.1 526.3 273.8C525.4 274.6 524.6 275.3 523.7 276.1C522.9 276.8 522.1 277.5 521.2 278.3C520.4 279.0 519.5 279.7 518.7 280.5C517.9 281.2 517.0 281.9 516.2 282.7C515.3 283.4 514.5 284.1 513.6 284.9C512.8 285.6 512.0 286.3 511.1 287.1C510.3 287.8 509.4 288.5 508.6 289.3C507.7 290.0 506.9 290.7 506.0 291.4C505.2 292.2 504.3 292.9 503.5 293.6C502.6 294.4 501.8 295.1 500.9 295.8C500.1 296.5 499.2 297.3 498.3 298.0C497.5 298.7 496.6 299.4 495.7 300.1C494.9 300.9 494.0 301.6 493.2 302.3C492.3 303.0 491.4 303.7 490.5 304.4C489.7 305.2 488.8 305.9 487.9 306.6C487.0 307.3 486.2 308.0 485.3 308.7C484.4 309.4 483.5 310.1 482.6 310.8C481.7 311.5 480.8 312.2 479.9 312.9C479.0 313.6 478.1 314.3 477.2 315.0C476.3 315.7 475.4 316.4 474.5 317.1C473.6 317.7 472.7 318.4 471.8 319.1C470.9 319.8 470.0 320.4 469.1 321.1C468.2 321.8 467.2 322.4 466.3 323.1C465.4 323.7 464.5 324.4 463.5 325.0C462.6 325.7 461.7 326.3 460.7 326.9C459.8 327.6 458.8 328.2 457.9 328.8C457.0 329.4 456.0 330.0 455.1 330.6C454.1 331.2 453.2 331.8 452.2 332.4C451.3 333.0 450.3 333.6 449.3 334.2C448.4 334.8 447.4 335.3 446.4 335.9C445.5 336.5 444.5 337.0 443.5 337.6C442.5 338.1 441.5 338.7 440.6 339.2C439.6 339.7 438.6 340.3 437.6 340.8C436.6 341.3 435.6 341.9 434.6 342.4C433.7 342.9 432.7 343.4 431.7 343.9C430.7 344.4 429.7 345.0 428.7 345.5C427.7 346.0 426.7 346.5 425.7 347.0C424.7 347.5 423.7 347.9 422.6 348.4C421.6 348.9 420.6 349.4 419.6 349.9C418.6 350.4 417.6 350.9 416.6 351.3C415.6 351.8 414.6 352.3 413.6 352.8C412.5 353.2 411.5 353.7 410.5 354.2C409.5 354.7 408.5 355.1 407.5 355.6C406.4 356.1 405.4 356.5 404.4 357.0C403.4 357.5 402.4 357.9 401.3 358.4C400.3 358.9 399.3 359.3 398.3 359.8C397.3 360.2 396.2 360.7 395.2 361.2C394.2 361.6 393.2 362.1 392.2 362.6C391.1 363.0 390.1 363.5 389.1 364.0C388.1 364.4 387.1 364.9 386.0 365.4C385.0 365.9 384.0 366.3 383.0 366.8C382.0 367.3 381.0 367.8 379.9 368.2C378.9 368.7 377.9 369.2 376.9 369.7C375.9 370.2 374.9 370.7 373.9 371.1C372.9 371.6 371.8 372.1 370.8 372.6C369.8 373.1 368.8 373.6 367.8 374.1C366.8 374.6 365.8 375.1 364.8 375.7C363.8 376.2 362.8 376.7 361.8 377.2C360.8 377.7 359.9 378.2 358.9 378.8C357.9 379.3 356.9 379.8 355.9 380.4C354.9 380.9 353.9 381.4 353.0 382.0C352.0 382.5 351.0 383.1 350.1 383.7C349.1 384.2 348.1 384.8 347.2 385.4C346.2 385.9 345.2 386.5 344.3 387.1C343.3 387.6 342.4 388.2 341.4 388.8C340.5 389.4 339.5 390.0 338.6 390.6C337.7 391.2 336.7 391.8 335.8 392.5C334.9 393.1 334.0 393.7 333.1 394.3C332.1 395.0 331.2 395.6 330.3 396.3C329.4 396.9 328.5 397.5 327.6 398.2C326.7 398.9 325.8 399.5 324.9 400.2C324.1 400.9 323.2 401.6 322.3 402.3C321.4 403.0 320.6 403.6 319.7 404.4C318.9 405.1 318.0 405.8 317.2 406.5C316.3 407.2 315.5 408.0 314.7 408.7C313.8 409.5 313.0 410.2 312.2 411.0C311.4 411.7 310.6 412.5 309.8 413.3C309.0 414.1 308.2 414.8 307.4 415.6C306.6 416.4 305.8 417.2 305.0 418.1C304.2 418.9 303.5 419.7 302.7 420.5C302.0 421.4 301.2 422.2 300.5 423.0C299.7 423.9 298.9 424.7 298.2 425.5C297.4 426.4 296.7 427.2 295.9 428.0C295.2 428.9 294.4 429.7 293.6 430.5C292.9 431.4 292.1 432.2 291.3 433.0C290.5 433.8 289.7 434.6 288.9 435.4C288.1 436.2 287.3 437.0 286.5 437.7C285.7 438.5 284.9 439.3 284.0 440.0C283.2 440.7 282.3 441.4 281.4 442.1C280.6 442.8 279.7 443.5 278.8 444.2C277.9 444.9 277.0 445.6 276.1 446.2C275.2 446.9 274.3 447.6 273.4 448.3C272.6 448.9 271.7 449.6 270.8 450.3C269.9 451.0 269.1 451.7 268.2 452.4C267.4 453.1 266.6 453.9 265.8 454.7C265.1 455.4 264.3 456.2 263.5 457.0C262.8 457.8 262.0 458.6 261.3 459.5C260.6 460.3 260.0 461.2 259.3 462.1C258.6 462.9 258.0 463.8 257.3 464.7C256.7 465.6 256.1 466.5 255.5 467.5C254.9 468.4 254.3 469.4 253.7 470.3C253.2 471.3 252.6 472.2 252.1 473.2C251.5 474.2 251.0 475.2 250.5 476.2C249.9 477.1 249.5 478.2 249.0 479.2C248.5 480.2 248.0 481.2 247.5 482.2C247.1 483.3 246.6 484.3 246.1 485.3C245.7 486.4 245.2 487.4 244.8 488.5C244.4 489.5 244.0 490.5 243.5 491.6C243.1 492.6 242.7 493.7 242.3 494.7C241.9 495.8 241.5 496.9 241.1 497.9C240.7 499.0 240.3 500.0 239.9 501.1C239.5 502.1 239.2 503.2 238.8 504.3C238.4 505.3 238.1 506.4 237.7 507.4C237.3 508.5 237.0 509.6 236.6 510.6C236.3 511.7 235.9 512.8 235.6 513.8C235.3 514.9 234.9 516.0 234.6 517.0C234.3 518.1 234.0 519.2 233.6 520.2C233.3 521.3 233.0 522.4 232.7 523.5C232.4 524.5 232.1 525.6 231.8 526.7C231.5 527.8 231.2 528.8 230.9 529.9C230.7 531.0 230.4 532.1 230.1 533.2C229.8 534.2 229.6 535.3 229.3 536.4C229.0 537.5 228.8 538.6 228.5 539.7C228.3 540.7 228.0 541.8 227.8 542.9C227.5 544.0 227.3 545.1 227.0 546.2C226.8 547.3 226.6 548.4 226.3 549.4C226.1 550.5 225.9 551.6 225.7 552.7C225.4 553.8 225.2 554.9 225.0 556.0C224.8 557.1 224.6 558.2 224.4 559.3C224.2 560.4 224.0 561.5 223.8 562.6C223.6 563.7 223.4 564.8 223.2 565.9C223.1 567.0 222.9 568.1 222.7 569.2C222.5 570.3 222.3 571.4 222.2 572.5C222.0 573.6 221.8 574.7 221.7 575.8C221.5 576.9 221.3 578.0 221.2 579.1C221.0 580.2 220.9 581.3 220.7 582.4C220.6 583.5 220.4 584.6 220.3 585.7C220.1 586.8 220.0 587.9 219.9 589.0C219.7 590.1 219.6 591.3 219.5 592.4C219.3 593.5 219.2 594.6 219.1 595.7C219.0 596.8 218.8 597.9 218.7 599.0C218.6 600.1 218.5 601.3 218.4 602.4C218.3 603.5 218.2 604.6 218.1 605.7C217.9 606.8 217.8 607.9 217.7 609.1C217.6 610.2 217.5 611.3 217.4 612.4C217.3 613.5 217.2 614.6 217.2 615.8C217.1 616.9 217.0 618.0 216.9 619.1C216.8 620.2 216.7 621.4 216.6 622.5C216.5 623.6 216.5 624.7 216.4 625.8C216.3 627.0 216.2 628.1 216.2 629.2C216.1 630.3 216.0 631.4 215.9 632.6C215.9 633.7 215.8 634.8 215.7 635.9C215.7 637.1 215.6 638.2 215.5 639.3C215.5 640.4 215.4 641.6 215.4 642.7C215.3 643.8 215.2 644.9 215.2 646.1C215.1 647.2 215.1 648.3 215.0 649.4C215.0 650.6 214.9 651.7 214.9 652.8C214.8 653.9 214.8 655.1 214.7 656.2C214.7 657.3 214.6 658.4 214.6 659.6C214.5 660.7 214.5 661.8 214.4 663.0C214.4 664.1 214.3 665.8 214.3 666.3" stroke="#21918c" stroke-width="8.3"/>
<path d="M145.5 542.0C145.5 541.4 145.5 539.7 145.5 538.6C145.5 537.5 145.5 536.3 145.5 535.2C145.5 534.1 145.5 533.0 145.5 531.8C145.5 530.7 145.5 529.6 145.5 528.5C145.5 527.3 145.5 526.2 145.5 525.1C145.5 524.0 145.5 522.8 145.5 521.7C145.5 520.6 145.5 519.5 145.5 518.3C145.5 517.2 145.5 516.1 145.5 515.0C145.5 513.8 145.5 512.7 145.5 511.6C145.5 510.5 145.5 509.4 145.5 508.2C145.5 507.1 145.5 506.0 145.5 504.9C145.5 503.7 145.5 502.6 145.5 501.5C145.5 500.4 145.5 499.2 145.5 498.1C145.6 497.0 145.6 495.9 145.6 494.8C145.6 493.6 145.6 492.5 145.6 491.4C145.6 490.3 145.6 489.1 145.6 488.0C145.6 486.9 145.6 485.8 145.6 484.6C145.6 483.5 145.6 482.4 145.6 481.3C145.6 480.2 145.6 479.0 145.6 477.9C145.6 476.8 145.6 475.7 145.6 474.5C145.6 473.4 145.6 472.3 145.6 471.2C145.6 470.0 145.6 468.9 145.6 467.8C145.6 466.7 145.6 465.5 145.6 464.4C145.6 463.3 145.6 462.2 145.6 461.0C145.6 459.9 145.6 458.8 145.6 457.7C145.6 456.5 145.6 455.4 145.6 454.3C145.6 453.2 145.6 452.0 145.5 450.9C145.5 449.8 145.5 448.7 145.5 447.5C145.5 446.4 145.5 445.3 145.5 444.1C145.5 443.0 145.5 441.9 145.5 440.8C145.5 439.6 145.5 438.5 145.5 437.4C145.5 436.2 145.5 435.1 145.5 434.0C145.5 432.9 145.5 431.7 145.5 430.6C145.5 429.5 145.5 428.4 145.5 427.2C145.5 426.1 145.5 425.0 145.5 423.9C145.5 422.7 145.5 421.6 145.5 420.5C145.5 419.4 145.5 418.3 145.5 417.1C145.5 416.0 145.5 414.9 145.5 413.8C145.5 412.7 145.5 411.5 145.5 410.4C145.6 409.3 145.6 408.2 145.6 407.1C145.6 406.0 145.6 404.9 145.6 403.7C145.6 402.6 145.6 401.5 145.6 400.4C145.6 399.3 145.6 398.1 145.6 397.0C145.6 395.9 145.6 394.7 145.6 393.6C145.5 392.4 145.4 391.2 145.5 390.1C145.6 389.0 145.8 387.9 146.1 386.9C146.4 385.8 146.8 384.8 147.3 383.8C147.8 382.9 148.4 381.9 149.2 381.0C149.9 380.2 150.8 379.4 151.6 378.6C152.4 377.8 153.3 377.1 154.1 376.3C155.0 375.6 155.8 374.8 156.7 374.1C157.6 373.4 158.5 372.8 159.4 372.1C160.3 371.5 161.2 370.8 162.1 370.2C163.0 369.5 163.9 368.9 164.8 368.2C165.8 367.6 166.7 366.9 167.6 366.3C168.5 365.6 169.5 365.0 170.4 364.3C171.3 363.7 172.3 363.0 173.2 362.4C174.2 361.8 175.2 361.2 176.1 360.6C177.1 360.1 178.1 359.5 179.1 359.0C180.1 358.5 181.1 357.9 182.1 357.5C183.1 357.0 184.1 356.6 185.2 356.2C186.2 355.8 187.3 355.5 188.3 355.1C189.4 354.8 190.4 354.4 191.5 354.1C192.6 353.8 193.7 353.5 194.7 353.3C195.8 353.0 196.9 352.8 198.0 352.5C199.1 352.3 200.2 352.1 201.3 351.9C202.4 351.7 203.5 351.5 204.7 351.3C205.8 351.1 206.9 350.9 208.0 350.8C209.1 350.6 210.2 350.4 211.4 350.3C212.5 350.1 213.6 349.9 214.7 349.8C215.9 349.6 217.0 349.5 218.1 349.3C219.2 349.1 220.3 349.0 221.4 348.8C222.6 348.6 223.7 348.5 224.8 348.3C225.9 348.1 227.0 347.9 228.1 347.8C229.3 347.6 230.4 347.4 231.5 347.2C232.6 347.0 233.7 346.9 234.8 346.7C235.9 346.5 237.0 346.2 238.1 346.0C239.2 345.8 240.3 345.5 241.3 345.3C242.4 345.1 243.5 344.8 244.6 344.6C245.7 344.4 246.8 344.1 247.9 343.9C248.9 343.6 250.0 343.4 251.1 343.2C252.2 342.9 253.3 342.7 254.4 342.4C255.5 342.2 256.5 341.9 257.6 341.7C258.7 341.4 259.8 341.2 260.9 341.0C262.0 340.7 263.0 340.5 264.1 340.2C265.2 340.0 266.3 339.7 267.4 339.4C268.5 339.2 269.6 338.9 270.6 338.7C271.7 338.4 272.8 338.2 273.9 337.9C275.0 337.7 276.1 337.4 277.1 337.1C278.2 336.9 279.3 336.6 280.4 336.4C281.5 336.1 282.6 335.8 283.6 335.6C284.7 335.3 285.8 335.0 286.9 334.8C288.0 334.5 289.1 334.3 290.2 334.0C291.2 333.7 292.3 333.4 293.4 333.2C294.5 332.9 295.6 332.6 296.7 332.4C297.7 332.1 298.8 331.8 299.9 331.5C301.0 331.3 302.1 331.0 303.2 330.7C304.2 330.4 305.3 330.1 306.4 329.9C307.5 329.6 308.6 329.3 309.7 329.0C310.7 328.7 311.8 328.4 312.9 328.2C314.0 327.9 315.1 327.6 316.2 327.3C317.2 327.0 318.3 326.7 319.4 326.4C320.5 326.1 321.6 325.8 322.6 325.5C323.7 325.2 324.8 324.9 325.9 324.6C327.0 324.3 328.0 324.0 329.1 323.7C330.2 323.4 331.3 323.1 332.4 322.8C333.4 322.5 334.5 322.2 335.6 321.9C336.7 321.6 337.8 321.3 338.8 321.0C339.9 320.6 341.0 320.3 342.1 320.0C343.1 319.7 344.2 319.4 345.3 319.1C346.4 318.7 347.5 318.4 348.5 318.1C349.6 317.8 350.7 317.4 351.8 317.1C352.8 316.8 353.9 316.5 355.0 316.1C356.0 315.8 357.1 315.5 358.2 315.1C359.3 314.8 360.3 314.5 361.4 314.1C362.5 313.8 363.6 313.4 364.6 313.1C365.7 312.8 366.8 312.4 367.8 312.1C368.9 311.7 370.0 311.4 371.0 311.0C372.1 310.7 373.2 310.3 374.2 310.0C375.3 309.6 376.4 309.2 377.5 308.9C378.5 308.5 379.6 308.2 380.6 307.8C381.7 307.4 382.8 307.1 383.8 306.7C384.9 306.3 386.0 306.0 387.0 305.6C388.1 305.2 389.2 304.8 390.2 304.5C391.3 304.1 392.3 303.7 393.4 303.3C394.4 302.9 395.5 302.5 396.6 302.2C397.6 301.8 398.7 301.4 399.7 301.0C400.8 300.6 401.8 300.2 402.9 299.8C403.9 299.4 405.0 299.0 406.0 298.6C407.1 298.2 408.1 297.8 409.2 297.4C410.2 296.9 411.3 296.5 412.3 296.1C413.4 295.7 414.4 295.3 415.4 294.8C416.5 294.4 417.5 294.0 418.6 293.6C419.6 293.1 420.6 292.7 421.7 292.3C422.7 291.8 423.7 291.4 424.8 290.9C425.8 290.5 426.8 290.1 427.8 289.6C428.9 289.1 429.9 288.7 430.9 288.2C431.9 287.8 433.0 287.3 434.0 286.9C435.0 286.4 436.0 285.9 437.0 285.4C438.1 285.0 439.1 284.5 440.1 284.0C441.1 283.5 442.1 283.1 443.1 282.6C444.1 282.1 445.1 281.6 446.1 281.1C447.1 280.6 448.1 280.1 449.1 279.6C450.1 279.1 451.1 278.6 452.1 278.1C453.1 277.6 454.1 277.0 455.1 276.5C456.1 276.0 457.0 275.5 458.0 274.9C459.0 274.4 460.0 273.9 461.0 273.3C461.9 272.8 462.9 272.3 463.9 271.7C464.9 271.2 465.8 270.6 466.8 270.1C467.8 269.5 468.7 268.9 469.7 268.4C470.7 267.8 471.6 267.2 472.6 266.7C473.5 266.1 474.5 265.5 475.4 264.9C476.4 264.3 477.3 263.8 478.3 263.2C479.2 262.6 480.1 262.0 481.1 261.4C482.0 260.8 482.9 260.1 483.9 259.5C484.8 258.9 485.7 258.3 486.7 257.7C487.6 257.1 488.5 256.4 489.4 255.8C490.3 255.1 491.2 254.5 492.2 253.9C493.1 253.2 494.0 252.6 494.9 251.9C495.8 251.3 496.7 250.6 497.6 249.9C498.5 249.3 499.4 248.6 500.3 247.9C501.2 247.3 502.1 246.6 502.9 245.9C503.8 245.2 504.7 244.6 505.6 243.9C506.5 243.2 507.3 242.5 508.2 241.8C509.1 241.1 510.0 240.4 510.9 239.7C511.7 239.0 512.6 238.3 513.5 237.6C514.3 236.9 515.2 236.2 516.1 235.4C516.9 234.7 517.8 234.0 518.6 233.3C519.5 232.6 520.3 231.8 521.2 231.1C522.1 230.4 522.9 229.6 523.8 228.9C524.6 228.2 525.5 227.4 526.3 226.7C527.1 226.0 528.0 225.2 528.8 224.5C529.7 223.7 530.5 223.0 531.3 222.2C532.2 221.5 533.0 220.7 533.9 220.0C534.7 219.2 535.5 218.4 536.4 217.7C537.2 216.9 538.0 216.2 538.8 215.4C539.7 214.6 540.5 213.9 541.3 213.1C542.2 212.3 543.0 211.6 543.8 210.8C544.6 210.0 545.4 209.3 546.3 208.5C547.1 207.7 547.9 206.9 548.7 206.2C549.5 205.4 550.4 204.6 551.2 203.8C552.0 203.0 552.8 202.3 553.6 201.5C554.4 200.7 555.3 199.9 556.1 199.1C556.9 198.3 557.7 197.6 558.5 196.8C559.3 196.0 560.1 195.2 560.9 194.4C561.7 193.6 562.5 192.8 563.4 192.1C564.2 191.3 565.0 190.5 565.8 189.7C566.6 188.9 567.4 188.1 568.2 187.3C569.0 186.5 569.8 185.8 570.6 185.0C571.4 184.2 572.2 183.4 573.0 182.6C573.8 181.8 574.6 181.0 575.4 180.2C576.3 179.4 577.1 178.7 577.9 177.9C578.7 177.1 579.5 176.3 580.3 175.5C581.1 174.7 581.9 173.9 582.7 173.2C583.5 172.4 584.3 171.6 585.1 170.8C585.9 170.0 586.7 169.3 587.5 168.5C588.3 167.7 589.1 166.9 589.9 166.1C590.7 165.4 591.5 164.6 592.4 163.8C593.2 163.0 594.0 162.3 594.8 161.5C595.6 160.7 596.4 159.9 597.2 159.2C598.0 158.4 598.8 157.6 599.6 156.9C600.5 156.1 601.3 155.3 602.1 154.6C602.9 153.8 603.7 153.1 604.5 152.3C605.3 151.5 606.2 150.8 607.0 150.0C607.8 149.3 608.6 148.5 609.4 147.7C610.2 147.0 611.1 146.2 611.9 145.5C612.7 144.7 613.5 144.0 614.4 143.2C615.2 142.5 616.0 141.7 616.9 141.0C617.7 140.2 618.5 139.5 619.3 138.8C620.2 138.0 621.0 137.3 621.8 136.5C622.7 135.8 623.5 135.0 624.4 134.3C625.2 133.6 626.1 132.8 626.9 132.1C627.7 131.4 628.6 130.6 629.4 129.9C630.3 129.2 631.1 128.4 632.0 127.7C632.8 127.0 633.7 126.2 634.6 125.5C635.4 124.8 636.3 124.1 637.1 123.3C638.0 122.6 638.9 121.9 639.7 121.2C640.6 120.5 641.5 119.7 642.4 119.0C643.2 118.3 644.1 117.6 645.0 116.9C645.9 116.2 646.8 115.4 647.7 114.7C648.5 114.0 649.4 113.3 650.3 112.6C651.2 111.9 652.1 111.2 653.0 110.5C653.9 109.8 654.8 109.1 655.7 108.4C656.6 107.7 657.5 106.9 658.5 106.2C659.4 105.5 660.3 104.8 661.2 104.1C662.1 103.5 663.1 102.8 664.0 102.1C664.9 101.5 665.9 100.8 666.9 100.3C667.8 99.7 668.8 99.0 669.8 98.6C670.8 98.2 671.8 97.9 672.9 97.7C674.0 97.4 675.1 97.3 676.2 97.3C677.3 97.2 679.0 97.4 679.6 97.5" stroke="#482677" stroke-width="8.3"/>
<path d="M679.4 98.0C679.4 98.5 679.4 100.4 679.3 101.5C679.1 102.6 678.9 103.7 678.5 104.7C678.1 105.7 677.7 106.7 677.0 107.5C676.3 108.4 675.3 109.0 674.5 109.7C673.6 110.4 672.7 111.1 671.8 111.8C671.0 112.5 670.0 113.2 669.1 113.9C668.2 114.6 667.4 115.3 666.6 116.1C665.7 116.9 664.9 117.6 664.1 118.4C663.3 119.2 662.5 120.0 661.7 120.8C661.0 121.6 660.2 122.5 659.5 123.3C658.8 124.1 658.0 125.0 657.3 125.8C656.6 126.7 655.9 127.6 655.2 128.4C654.5 129.3 653.8 130.2 653.1 131.1C652.4 132.0 651.7 132.9 651.0 133.8C650.4 134.7 649.7 135.6 649.0 136.4C648.3 137.3 647.6 138.2 647.0 139.1C646.3 140.0 645.6 140.9 644.9 141.8C644.2 142.7 643.5 143.6 642.8 144.4C642.1 145.3 641.4 146.2 640.7 147.1C640.0 147.9 639.3 148.8 638.6 149.7C637.9 150.6 637.2 151.4 636.5 152.3C635.8 153.2 635.1 154.0 634.4 154.9C633.7 155.8 632.9 156.6 632.2 157.5C631.5 158.4 630.8 159.2 630.1 160.1C629.4 160.9 628.6 161.8 627.9 162.6C627.2 163.5 626.4 164.3 625.7 165.2C625.0 166.0 624.3 166.9 623.5 167.7C622.8 168.6 622.1 169.4 621.3 170.2C620.6 171.1 619.8 171.9 619.1 172.8C618.4 173.6 617.6 174.4 616.9 175.3C616.1 176.1 615.4 176.9 614.6 177.8C613.9 178.6 613.1 179.4 612.4 180.2C611.6 181.1 610.9 181.9 610.1 182.7C609.3 183.5 608.6 184.3 607.8 185.2C607.1 186.0 606.3 186.8 605.5 187.6C604.8 188.4 604.0 189.2 603.2 190.1C602.5 190.9 601.7 191.7 600.9 192.5C600.2 193.3 599.4 194.1 598.6 194.9C597.8 195.7 597.1 196.5 596.3 197.3C595.5 198.1 594.7 198.9 593.9 199.7C593.2 200.5 592.4 201.3 591.6 202.1C590.8 202.9 590.0 203.7 589.2 204.5C588.5 205.3 587.7 206.1 586.9 206.9C586.1 207.7 585.3 208.5 584.5 209.3C583.7 210.0 582.9 210.8 582.1 211.6C581.3 212.4 580.5 213.2 579.7 214.0C578.9 214.7 578.1 215.5 577.3 216.3C576.5 217.1 575.7 217.9 574.9 218.6C574.1 219.4 573.3 220.2 572.5 221.0C571.7 221.8 570.9 222.5 570.1 223.3C569.3 224.1 568.5 224.8 567.6 225.6C566.8 226.4 566.0 227.2 565.2 227.9C564.4 228.7 563.6 229.5 562.8 230.2C561.9 231.0 561.1 231.8 560.3 232.5C559.5 233.3 558.7 234.0 557.8 234.8C557.0 235.6 556.2 236.3 555.4 237.1C554.6 237.9 553.7 238.6 552.9 239.4C552.1 240.1 551.3 240.9 550.4 241.6C549.6 242.4 548.8 243.2 548.0 243.9C547.1 244.7 546.3 245.4 545.5 246.2C544.6 246.9 543.8 247.7 543.0 248.4C542.1 249.2 541.3 249.9 540.5 250.7C539.6 251.4 538.8 252.2 538.0 252.9C537.1 253.7 536.3 254.4 535.5 255.2C534.6 255.9 533.8 256.7 533.0 257.4C532.1 258.2 531.3 258.9 530.4 259.6C529.6 260.4 528.8 261.1 527.9 261.9C527.1 262.6 526.2 263.4 525.4 264.1C524.6 264.8 523.7 265.6 522.9 266.3C522.0 267.1 521.2 267.8 520.3 268.5C519.5 269.3 518.6 270.0 517.8 270.8C517.0 271.5 516.1 272.2 515.3 273.0C514.4 273.7 513.6 274.4 512.7 275.2C511.9 275.9 511.0 276.6 510.2 277.4C509.3 278.1 508.5 278.8 507.6 279.6C506.8 280.3 505.9 281.0 505.1 281.8C504.2 282.5 503.3 283.2 502.5 283.9C501.6 284.7 500.8 285.4 499.9 286.1C499.1 286.8 498.2 287.5 497.3 288.3C496.5 289.0 495.6 289.7 494.8 290.4C493.9 291.1 493.0 291.8 492.2 292.5C491.3 293.3 490.4 294.0 489.6 294.7C488.7 295.4 487.8 296.1 486.9 296.8C486.1 297.5 485.2 298.2 484.3 298.9C483.4 299.6 482.6 300.3 481.7 301.0C480.8 301.7 479.9 302.4 479.0 303.0C478.2 303.7 477.3 304.4 476.4 305.1C475.5 305.8 474.6 306.5 473.7 307.1C472.8 307.8 471.9 308.5 471.1 309.2C470.2 309.8 469.3 310.5 468.4 311.2C467.5 311.8 466.6 312.5 465.7 313.1C464.8 313.8 463.9 314.5 463.0 315.1C462.1 315.8 461.2 316.4 460.2 317.1C459.3 317.7 458.4 318.4 457.5 319.0C456.6 319.6 455.7 320.3 454.8 320.9C453.8 321.5 452.9 322.2 452.0 322.8C451.1 323.4 450.1 324.0 449.2 324.7C448.3 325.3 447.4 325.9 446.4 326.5C445.5 327.1 444.6 327.7 443.6 328.3C442.7 328.9 441.7 329.5 440.8 330.1C439.8 330.7 438.9 331.3 437.9 331.9C437.0 332.5 436.1 333.0 435.1 333.6C434.1 334.2 433.2 334.8 432.2 335.3C431.3 335.9 430.3 336.5 429.3 337.0C428.4 337.6 427.4 338.1 426.4 338.7C425.5 339.2 424.5 339.8 423.5 340.3C422.5 340.9 421.5 341.4 420.5 341.9C419.6 342.4 418.6 343.0 417.6 343.5C416.6 344.0 415.6 344.5 414.6 345.1C413.6 345.6 412.6 346.1 411.6 346.6C410.6 347.1 409.6 347.6 408.6 348.1C407.6 348.6 406.6 349.1 405.6 349.6C404.6 350.1 403.6 350.6 402.6 351.0C401.6 351.5 400.6 352.0 399.6 352.5C398.6 353.0 397.5 353.4 396.5 353.9C395.5 354.4 394.5 354.9 393.5 355.3C392.5 355.8 391.4 356.3 390.4 356.7C389.4 357.2 388.4 357.6 387.3 358.1C386.3 358.6 385.3 359.0 384.3 359.5C383.3 359.9 382.2 360.4 381.2 360.8C380.2 361.3 379.2 361.7 378.1 362.1C377.1 362.6 376.1 363.0 375.0 363.5C374.0 363.9 373.0 364.3 372.0 364.8C370.9 365.2 369.9 365.6 368.9 366.1C367.9 366.5 366.8 366.9 365.8 367.4C364.8 367.8 363.7 368.2 362.7 368.7C361.7 369.1 360.7 369.5 359.6 369.9C358.6 370.4 357.6 370.8 356.6 371.2C355.5 371.7 354.5 372.1 353.5 372.5C352.5 372.9 351.5 373.4 350.4 373.8C349.4 374.3 348.4 374.7 347.4 375.2C346.4 375.6 345.4 376.1 344.4 376.5C343.4 377.0 342.4 377.5 341.4 377.9C340.4 378.4 339.4 378.9 338.4 379.4C337.4 379.9 336.4 380.3 335.4 380.9C334.4 381.4 333.4 381.9 332.4 382.4C331.5 383.0 330.5 383.5 329.5 384.0C328.5 384.6 327.6 385.1 326.6 385.7C325.6 386.3 324.7 386.9 323.7 387.5C322.8 388.1 321.8 388.7 320.9 389.3C320.0 389.9 319.0 390.5 318.1 391.1C317.1 391.7 316.2 392.4 315.3 393.0C314.4 393.7 313.5 394.4 312.6 395.0C311.7 395.7 310.8 396.3 309.9 397.0C309.0 397.7 308.1 398.4 307.2 399.1C306.3 399.8 305.5 400.5 304.6 401.2C303.7 402.0 302.9 402.7 302.0 403.4C301.1 404.1 300.3 404.9 299.5 405.6C298.6 406.4 297.8 407.1 297.0 407.9C296.2 408.7 295.4 409.4 294.6 410.2C293.7 411.0 293.0 411.8 292.2 412.6C291.4 413.4 290.6 414.2 289.8 415.0C289.1 415.8 288.3 416.6 287.5 417.4C286.8 418.2 286.0 419.0 285.2 419.8C284.5 420.6 283.7 421.4 283.0 422.3C282.2 423.1 281.5 423.9 280.7 424.7C279.9 425.5 279.2 426.3 278.4 427.1C277.7 428.0 276.9 428.8 276.1 429.6C275.4 430.4 274.6 431.2 273.8 432.0C273.0 432.8 272.2 433.6 271.4 434.4C270.6 435.2 269.8 435.9 269.0 436.7C268.2 437.5 267.4 438.3 266.6 439.0C265.7 439.8 264.9 440.5 264.0 441.3C263.2 442.0 262.3 442.8 261.5 443.5C260.6 444.3 259.7 445.0 258.9 445.8C258.1 446.5 257.2 447.3 256.4 448.1C255.6 448.8 254.8 449.6 254.0 450.4C253.3 451.3 252.5 452.1 251.7 452.9C251.0 453.8 250.4 454.7 249.7 455.5C249.0 456.4 248.4 457.3 247.7 458.3C247.1 459.2 246.5 460.1 245.9 461.1C245.3 462.0 244.8 463.0 244.2 464.0C243.7 465.0 243.2 466.0 242.6 467.0C242.1 468.0 241.6 469.0 241.1 470.0C240.6 471.0 240.2 472.0 239.7 473.0C239.2 474.1 238.8 475.1 238.3 476.1C237.9 477.2 237.4 478.2 237.0 479.2C236.6 480.3 236.2 481.3 235.8 482.3C235.4 483.4 235.0 484.4 234.6 485.5C234.2 486.5 233.8 487.6 233.4 488.6C233.0 489.7 232.7 490.7 232.3 491.8C232.0 492.8 231.6 493.9 231.3 495.0C230.9 496.0 230.6 497.1 230.2 498.1C229.9 499.2 229.6 500.3 229.3 501.3C229.0 502.4 228.7 503.5 228.4 504.6C228.1 505.6 227.8 506.7 227.5 507.8C227.2 508.9 226.9 509.9 226.6 511.0C226.4 512.1 226.1 513.2 225.8 514.3C225.6 515.3 225.3 516.4 225.1 517.5C224.8 518.6 224.6 519.7 224.4 520.8C224.1 521.9 223.9 523.0 223.7 524.1C223.5 525.1 223.2 526.2 223.0 527.3C222.8 528.4 222.6 529.5 222.4 530.6C222.2 531.7 222.0 532.8 221.8 533.9C221.7 535.0 221.5 536.1 221.3 537.2C221.1 538.3 220.9 539.4 220.8 540.6C220.6 541.7 220.4 542.8 220.3 543.9C220.1 545.0 220.0 546.1 219.8 547.2C219.7 548.3 219.5 549.4 219.4 550.5C219.2 551.7 219.1 552.8 219.0 553.9C218.8 555.0 218.7 556.1 218.6 557.2C218.5 558.3 218.3 559.5 218.2 560.6C218.1 561.7 218.0 562.8 217.9 563.9C217.8 565.0 217.7 566.2 217.6 567.3C217.5 568.4 217.4 569.5 217.3 570.6C217.2 571.8 217.1 572.9 217.0 574.0C216.9 575.1 216.8 576.3 216.7 577.4C216.6 578.5 216.6 579.6 216.5 580.7C216.4 581.9 216.3 583.0 216.3 584.1C216.2 585.2 216.1 586.4 216.0 587.5C216.0 588.6 215.9 589.7 215.8 590.9C215.8 592.0 215.7 593.1 215.6 594.2C215.6 595.4 215.5 596.5 215.4 597.6C215.4 598.7 215.3 599.9 215.3 601.0C215.2 602.1 215.2 603.2 215.1 604.4C215.0 605.5 215.0 606.6 214.9 607.7C214.9 608.9 214.8 610.0 214.8 611.1C214.7 612.2 214.7 613.3 214.6 614.5C214.6 615.6 214.5 616.7 214.5 617.8C214.4 619.0 214.4 620.1 214.3 621.2C214.3 622.3 214.2 623.4 214.2 624.6C214.1 625.7 214.1 626.8 214.0 627.9C214.0 629.0 213.9 630.2 213.9 631.3C213.8 632.4 213.8 633.5 213.7 634.6C213.7 635.7 213.6 636.8 213.5 638.0C213.5 639.1 213.4 640.2 213.4 641.3C213.3 642.4 213.3 643.5 213.2 644.6C213.1 645.7 213.1 646.8 213.0 648.0C213.0 649.1 212.9 650.2 212.8 651.3C212.8 652.4 212.7 653.5 212.6 654.6C212.6 655.7 212.5 656.8 212.4 657.9C212.3 659.0 212.3 660.1 212.2 661.2C212.1 662.3 212.0 663.4 211.9 664.5C211.9 665.6 211.7 667.2 211.7 667.8" stroke="#482677" stroke-width="8.3"/>
</g>
<rect x="327.3" y="461.8" width="402.9" height="177.8" rx="6" ry="6" fill="#fff" fill-opacity="0.8" stroke="#cccccc" stroke-opacity="0.8" stroke-width="3.3"/>
<circle cx="381.9" cy="493.5" r="7.8" fill="#b8de29"/>
<text x="429.1" y="506.7">Reference</text>
<circle cx="381.9" cy="548.1" r="7.8" fill="#21918c"/>
<text x="429.1" y="561.3">Compensation</text>
<circle cx="381.9" cy="602.7" r="7.8" fill="#482677"/>
<text x="429.1" y="615.9">Reservoir</text>
<text x="339.3" y="240.8">Charge</text>
<text x="532.6" y="334.9" textLength="197.4" lengthAdjust="spacing">Discharge</text>
<path d="M490.0 203.5L544.6 159.9" stroke="#000" stroke-width="7.3" stroke-linecap="round" fill="none"/><path d="M557.4 149.7L549.8 169.3L536.6 152.8Z" fill="#000" stroke="#000" stroke-width="2.4" stroke-linejoin="round"/>
<path d="M524.6 348.4L457.8 380.0" stroke="#000" stroke-width="7.3" stroke-linecap="round" fill="none"/><path d="M443.1 387.0L454.9 369.7L464.0 388.8Z" fill="#000" stroke="#000" stroke-width="2.4" stroke-linejoin="round"/>
<rect x="146.00" y="54.80" width="604.15" height="605.20" fill="none" stroke="#000" stroke-width="3.3"/>
<path d="M146.00 660.00v14.4M266.83 660.00v14.4M387.66 660.00v14.4M508.49 660.00v14.4M629.32 660.00v14.4M750.15 660.00v14.4M146.00 54.80h-14.4M146.00 141.26h-14.4M146.00 227.71h-14.4M146.00 314.17h-14.4M146.00 400.63h-14.4M146.00 487.09h-14.4M146.00 573.54h-14.4M146.00 660.00h-14.4" stroke="#000" stroke-width="3.3" fill="none"/>
<text x="146.0" y="718.0" text-anchor="middle">0.00</text>
<text x="266.8" y="718.0" text-anchor="middle">0.05</text>
<text x="387.7" y="718.0" text-anchor="middle">0.10</text>
<text x="508.5" y="718.0" text-anchor="middle">0.15</text>
<text x="629.3" y="718.0" text-anchor="middle">0.20</text>
<text x="750.1" y="718.0" text-anchor="middle">0.25</text>
<text x="118.4" y="69.8" text-anchor="end">4.3</text>
<text x="118.4" y="156.3" text-anchor="end">4.1</text>
<text x="118.4" y="242.7" text-anchor="end">3.9</text>
<text x="118.4" y="329.2" text-anchor="end">3.7</text>
<text x="118.4" y="415.6" text-anchor="end">3.5</text>
<text x="118.4" y="502.1" text-anchor="end">3.3</text>
<text x="118.4" y="588.5" text-anchor="end">3.1</text>
<text x="118.4" y="675.0" text-anchor="end">2.9</text>
<text x="448.5" y="31.1" text-anchor="middle">SLPs</text>
<text x="145.7" y="36.9">(a)</text>
<text x="448.1" y="771.3" text-anchor="middle">Capacity in Ah</text>
<text transform="translate(31.7 357.4) rotate(-90)" text-anchor="middle">Voltage in V</text>
</g>
<g>
<clipPath id="clip1"><rect x="931.65" y="54.80" width="604.55" height="605.20"/></clipPath>
<path d="M1052.56 54.80V660.00M1173.47 54.80V660.00M1294.38 54.80V660.00M1415.29 54.80V660.00M931.65 141.26H1536.20M931.65 227.71H1536.20M931.65 314.17H1536.20M931.65 400.63H1536.20M931.65 487.09H1536.20M931.65 573.54H1536.20" stroke="#d5d7da" stroke-width="3.4" fill="none"/>
<g clip-path="url(#clip1)" fill="none" stroke-linecap="round" stroke-linejoin="round">
<path d="M938.3 668.1C938.3 667.5 938.4 665.8 938.4 664.7C938.5 663.6 938.5 662.5 938.5 661.3C938.6 660.2 938.6 659.1 938.7 658.0C938.7 656.8 938.7 655.7 938.8 654.6C938.8 653.5 938.9 652.4 938.9 651.2C939.0 650.1 939.0 649.0 939.1 647.9C939.1 646.7 939.2 645.6 939.2 644.5C939.3 643.4 939.3 642.3 939.4 641.2C939.4 640.0 939.5 638.9 939.6 637.8C939.6 636.7 939.7 635.6 939.7 634.4C939.8 633.3 939.9 632.2 939.9 631.1C940.0 630.0 940.1 628.9 940.1 627.7C940.2 626.6 940.3 625.5 940.3 624.4C940.4 623.3 940.5 622.2 940.5 621.1C940.6 619.9 940.7 618.8 940.8 617.7C940.8 616.6 940.9 615.5 941.0 614.4C941.1 613.3 941.1 612.1 941.2 611.0C941.3 609.9 941.4 608.8 941.4 607.7C941.5 606.6 941.6 605.5 941.7 604.4C941.8 603.2 941.9 602.1 941.9 601.0C942.0 599.9 942.1 598.8 942.2 597.7C942.3 596.6 942.4 595.5 942.5 594.4C942.5 593.2 942.6 592.1 942.7 591.0C942.8 589.9 942.9 588.8 943.0 587.7C943.1 586.6 943.2 585.5 943.3 584.3C943.4 583.2 943.5 582.1 943.6 581.0C943.6 579.9 943.7 578.8 943.8 577.7C943.9 576.6 944.0 575.5 944.1 574.3C944.2 573.2 944.3 572.1 944.4 571.0C944.5 569.9 944.6 568.8 944.7 567.7C944.8 566.6 944.9 565.4 945.0 564.3C945.1 563.2 945.2 562.1 945.3 561.0C945.4 559.9 945.5 558.8 945.6 557.7C945.8 556.5 945.9 555.4 946.0 554.3C946.1 553.2 946.2 552.1 946.3 551.0C946.4 549.9 946.5 548.7 946.6 547.6C946.7 546.5 946.8 545.4 946.9 544.3C947.0 543.2 947.1 542.0 947.2 540.9C947.4 539.8 947.5 538.7 947.6 537.6C947.7 536.5 947.8 535.3 947.9 534.2C948.0 533.1 948.1 532.0 948.2 530.9C948.3 529.8 948.4 528.7 948.5 527.6C948.6 526.5 948.7 525.3 948.8 524.2C948.9 523.1 949.0 522.0 949.1 520.9C949.3 519.8 949.4 518.7 949.5 517.5C949.6 516.4 949.7 515.3 949.8 514.2C949.9 513.1 950.1 512.0 950.2 510.9C950.3 509.7 950.4 508.6 950.5 507.5C950.7 506.4 950.8 505.3 950.9 504.2C951.0 503.1 951.2 501.9 951.3 500.8C951.4 499.7 951.6 498.6 951.7 497.5C951.8 496.4 952.0 495.3 952.1 494.1C952.3 493.0 952.4 491.9 952.6 490.8C952.7 489.7 952.9 488.6 953.0 487.5C953.2 486.4 953.3 485.3 953.5 484.1C953.7 483.0 953.8 481.9 954.0 480.8C954.2 479.7 954.3 478.6 954.5 477.5C954.7 476.4 954.9 475.3 955.0 474.2C955.2 473.1 955.4 472.0 955.6 470.9C955.8 469.8 956.0 468.7 956.2 467.6C956.4 466.5 956.6 465.4 956.8 464.3C957.0 463.2 957.2 462.1 957.4 461.0C957.6 459.9 957.8 458.8 958.1 457.7C958.3 456.6 958.5 455.6 958.7 454.5C959.0 453.4 959.2 452.3 959.4 451.2C959.7 450.1 959.9 449.0 960.1 447.9C960.4 446.8 960.6 445.7 960.9 444.6C961.1 443.5 961.3 442.4 961.6 441.3C961.8 440.2 962.1 439.2 962.3 438.1C962.6 437.0 962.8 435.8 963.1 434.7C963.4 433.6 963.6 432.5 963.9 431.4C964.1 430.3 964.4 429.2 964.6 428.1C964.9 427.0 965.2 425.8 965.4 424.7C965.7 423.6 965.9 422.5 966.2 421.3C966.5 420.2 966.7 419.1 967.0 418.0C967.3 416.8 967.6 415.7 968.0 414.6C968.3 413.5 968.7 412.5 969.1 411.4C969.4 410.3 969.8 409.2 970.3 408.2C970.8 407.2 971.3 406.3 971.9 405.3C972.5 404.4 973.2 403.5 973.9 402.7C974.6 401.8 975.3 400.9 976.1 400.2C976.9 399.6 977.9 399.1 978.9 398.5C979.9 398.0 980.9 397.5 981.9 397.1C982.9 396.6 984.0 396.3 985.1 395.9C986.1 395.5 987.3 395.2 988.4 394.9C989.4 394.5 990.5 394.2 991.6 393.8C992.7 393.5 993.8 393.1 994.8 392.8C995.9 392.4 996.9 392.0 998.0 391.6C999.0 391.2 1000.0 390.7 1001.0 390.3C1002.1 389.8 1003.1 389.4 1004.1 388.9C1005.1 388.4 1006.1 387.9 1007.0 387.4C1008.0 386.9 1009.0 386.3 1010.0 385.8C1010.9 385.2 1011.9 384.7 1012.8 384.1C1013.8 383.5 1014.7 382.9 1015.7 382.3C1016.6 381.7 1017.6 381.1 1018.5 380.5C1019.4 379.9 1020.4 379.3 1021.3 378.6C1022.2 378.0 1023.2 377.4 1024.1 376.7C1025.0 376.1 1025.9 375.5 1026.9 374.8C1027.8 374.2 1028.7 373.5 1029.7 372.9C1030.6 372.3 1031.5 371.6 1032.5 371.0C1033.4 370.4 1034.3 369.8 1035.3 369.2C1036.2 368.5 1037.1 367.9 1038.1 367.3C1039.0 366.7 1040.0 366.2 1041.0 365.6C1041.9 365.0 1042.9 364.4 1043.9 363.9C1044.8 363.3 1045.8 362.8 1046.8 362.3C1047.8 361.7 1048.8 361.2 1049.8 360.7C1050.8 360.2 1051.8 359.8 1052.8 359.3C1053.8 358.8 1054.8 358.3 1055.8 357.9C1056.8 357.4 1057.9 357.0 1058.9 356.6C1059.9 356.2 1061.0 355.8 1062.0 355.4C1063.1 355.0 1064.1 354.7 1065.2 354.3C1066.2 354.0 1067.3 353.7 1068.4 353.3C1069.5 353.0 1070.5 352.7 1071.6 352.4C1072.7 352.1 1073.8 351.8 1074.8 351.6C1075.9 351.3 1077.0 351.0 1078.1 350.7C1079.2 350.5 1080.3 350.2 1081.4 349.9C1082.5 349.7 1083.5 349.4 1084.6 349.1C1085.7 348.9 1086.8 348.6 1087.9 348.3C1088.9 348.0 1090.0 347.7 1091.1 347.4C1092.1 347.1 1093.2 346.8 1094.3 346.5C1095.3 346.2 1096.4 345.8 1097.4 345.5C1098.5 345.2 1099.5 344.9 1100.6 344.6C1101.6 344.3 1102.7 344.0 1103.8 343.7C1104.8 343.4 1105.9 343.1 1107.0 342.9C1108.0 342.6 1109.1 342.3 1110.2 342.1C1111.3 341.8 1112.4 341.6 1113.5 341.3C1114.5 341.1 1115.6 340.8 1116.7 340.6C1117.8 340.3 1118.9 340.0 1119.9 339.8C1121.0 339.5 1122.1 339.2 1123.2 338.9C1124.2 338.6 1125.3 338.2 1126.3 337.9C1127.4 337.5 1128.4 337.2 1129.5 336.8C1130.5 336.5 1131.6 336.1 1132.6 335.7C1133.7 335.4 1134.8 335.1 1135.8 334.8C1136.9 334.5 1138.0 334.2 1139.0 333.9C1140.1 333.6 1141.2 333.4 1142.3 333.1C1143.4 332.9 1144.4 332.7 1145.5 332.5C1146.6 332.3 1147.7 332.1 1148.8 331.9C1149.9 331.7 1151.0 331.6 1152.2 331.4C1153.3 331.2 1154.4 331.1 1155.5 330.9C1156.6 330.7 1157.7 330.6 1158.8 330.4C1159.9 330.2 1161.0 330.0 1162.1 329.9C1163.2 329.7 1164.3 329.5 1165.4 329.3C1166.6 329.1 1167.7 328.9 1168.8 328.6C1169.9 328.4 1171.0 328.2 1172.1 328.0C1173.2 327.7 1174.2 327.5 1175.3 327.2C1176.4 327.0 1177.5 326.7 1178.6 326.4C1179.7 326.2 1180.8 325.9 1181.9 325.6C1183.0 325.3 1184.0 325.0 1185.1 324.7C1186.2 324.4 1187.3 324.1 1188.4 323.8C1189.4 323.4 1190.5 323.1 1191.6 322.8C1192.7 322.4 1193.7 322.1 1194.8 321.7C1195.9 321.3 1196.9 320.9 1198.0 320.6C1199.0 320.2 1200.1 319.8 1201.2 319.4C1202.2 319.0 1203.3 318.6 1204.3 318.1C1205.4 317.7 1206.4 317.3 1207.4 316.8C1208.5 316.4 1209.5 315.9 1210.6 315.5C1211.6 315.0 1212.6 314.5 1213.6 314.0C1214.7 313.5 1215.7 313.0 1216.7 312.5C1217.7 312.0 1218.8 311.4 1219.8 310.9C1220.8 310.3 1221.8 309.8 1222.8 309.2C1223.8 308.6 1224.8 308.0 1225.8 307.4C1226.8 306.8 1227.8 306.2 1228.8 305.6C1229.8 305.0 1230.8 304.3 1231.7 303.7C1232.7 303.1 1233.7 302.4 1234.7 301.8C1235.6 301.1 1236.6 300.5 1237.6 299.8C1238.5 299.2 1239.5 298.5 1240.5 297.9C1241.4 297.3 1242.4 296.6 1243.3 296.0C1244.3 295.4 1245.2 294.7 1246.2 294.1C1247.1 293.5 1248.1 292.9 1249.0 292.3C1249.9 291.7 1250.9 291.1 1251.8 290.5C1252.7 289.9 1253.7 289.3 1254.6 288.7C1255.5 288.1 1256.5 287.5 1257.4 286.9C1258.3 286.3 1259.2 285.7 1260.1 285.1C1261.0 284.5 1262.0 284.0 1262.9 283.4C1263.8 282.8 1264.7 282.2 1265.6 281.6C1266.5 281.0 1267.4 280.4 1268.3 279.8C1269.2 279.2 1270.1 278.7 1271.0 278.1C1271.9 277.5 1272.8 276.9 1273.7 276.3C1274.6 275.7 1275.5 275.0 1276.4 274.4C1277.2 273.8 1278.1 273.2 1279.0 272.6C1279.9 272.0 1280.8 271.3 1281.7 270.7C1282.6 270.1 1283.4 269.4 1284.3 268.8C1285.2 268.1 1286.1 267.5 1286.9 266.8C1287.8 266.2 1288.7 265.5 1289.6 264.9C1290.4 264.2 1291.3 263.6 1292.2 262.9C1293.0 262.2 1293.9 261.6 1294.8 260.9C1295.6 260.2 1296.5 259.5 1297.4 258.8C1298.2 258.2 1299.1 257.5 1300.0 256.8C1300.8 256.1 1301.7 255.4 1302.6 254.7C1303.4 254.0 1304.3 253.3 1305.1 252.6C1306.0 252.0 1306.9 251.3 1307.7 250.5C1308.6 249.8 1309.4 249.1 1310.3 248.4C1311.2 247.7 1312.0 247.0 1312.9 246.3C1313.7 245.6 1314.6 244.9 1315.4 244.2C1316.3 243.5 1317.2 242.8 1318.0 242.0C1318.9 241.3 1319.7 240.6 1320.6 239.9C1321.4 239.2 1322.3 238.5 1323.2 237.7C1324.0 237.0 1324.9 236.3 1325.7 235.6C1326.6 234.9 1327.4 234.1 1328.3 233.4C1329.2 232.7 1330.0 232.0 1330.9 231.3C1331.7 230.5 1332.6 229.8 1333.5 229.1C1334.3 228.4 1335.2 227.7 1336.0 226.9C1336.9 226.2 1337.8 225.5 1338.6 224.8C1339.5 224.1 1340.4 223.4 1341.2 222.6C1342.1 221.9 1343.0 221.2 1343.8 220.5C1344.7 219.8 1345.6 219.1 1346.4 218.3C1347.3 217.6 1348.2 216.9 1349.0 216.2C1349.9 215.5 1350.8 214.8 1351.6 214.0C1352.5 213.3 1353.4 212.6 1354.2 211.9C1355.1 211.2 1356.0 210.5 1356.8 209.8C1357.7 209.0 1358.6 208.3 1359.5 207.6C1360.3 206.9 1361.2 206.2 1362.1 205.5C1362.9 204.8 1363.8 204.0 1364.7 203.3C1365.6 202.6 1366.4 201.9 1367.3 201.2C1368.2 200.5 1369.1 199.8 1369.9 199.1C1370.8 198.3 1371.7 197.6 1372.5 196.9C1373.4 196.2 1374.3 195.5 1375.2 194.8C1376.0 194.1 1376.9 193.3 1377.8 192.6C1378.7 191.9 1379.5 191.2 1380.4 190.5C1381.3 189.8 1382.1 189.1 1383.0 188.3C1383.9 187.6 1384.8 186.9 1385.6 186.2C1386.5 185.5 1387.4 184.8 1388.3 184.1C1389.1 183.3 1390.0 182.6 1390.9 181.9C1391.7 181.2 1392.6 180.5 1393.5 179.8C1394.4 179.0 1395.2 178.3 1396.1 177.6C1397.0 176.9 1397.8 176.2 1398.7 175.5C1399.6 174.7 1400.4 174.0 1401.3 173.3C1402.2 172.6 1403.1 171.9 1403.9 171.1C1404.8 170.4 1405.7 169.7 1406.5 169.0C1407.4 168.3 1408.3 167.5 1409.1 166.8C1410.0 166.1 1410.9 165.4 1411.7 164.6C1412.6 163.9 1413.4 163.2 1414.3 162.5C1415.2 161.8 1416.0 161.0 1416.9 160.3C1417.8 159.6 1418.6 158.9 1419.5 158.1C1420.3 157.4 1421.2 156.7 1422.1 155.9C1422.9 155.2 1423.8 154.5 1424.6 153.8C1425.5 153.0 1426.4 152.3 1427.2 151.6C1428.1 150.8 1428.9 150.1 1429.8 149.4C1430.6 148.7 1431.5 147.9 1432.3 147.2C1433.2 146.5 1434.0 145.7 1434.9 145.0C1435.7 144.3 1436.6 143.5 1437.4 142.8C1438.3 142.0 1439.1 141.3 1440.0 140.6C1440.8 139.8 1441.7 139.1 1442.5 138.4C1443.4 137.6 1444.2 136.9 1445.1 136.1C1445.9 135.4 1446.7 134.7 1447.6 133.9C1448.4 133.2 1449.3 132.4 1450.1 131.7C1450.9 131.0 1451.8 130.2 1452.6 129.5C1453.4 128.7 1454.3 128.0 1455.1 127.3C1456.0 126.5 1456.8 125.8 1457.6 125.0C1458.5 124.3 1459.3 123.6 1460.1 122.8C1461.0 122.1 1461.8 121.4 1462.6 120.6C1463.5 119.9 1464.3 119.2 1465.1 118.4C1466.0 117.7 1466.8 117.0 1467.6 116.3C1468.5 115.5 1469.3 114.8 1470.1 114.1C1471.0 113.4 1471.8 112.6 1472.6 111.9C1473.5 111.2 1474.3 110.5 1475.1 109.8C1476.0 109.1 1476.8 108.4 1477.7 107.7C1478.5 107.0 1479.3 106.3 1480.2 105.6C1481.0 104.9 1481.9 104.2 1482.7 103.5C1483.5 102.8 1484.4 102.1 1485.2 101.4C1486.1 100.7 1486.9 100.0 1487.8 99.3C1488.7 98.7 1490.0 97.6 1490.4 97.2" stroke="#b8de29" stroke-width="8.3"/>
<path d="M1492.1 96.9C1492.3 97.4 1493.0 98.8 1493.3 99.8C1493.6 100.8 1493.8 101.9 1493.8 103.0C1493.9 104.1 1493.8 105.3 1493.7 106.4C1493.7 107.5 1493.5 108.7 1493.4 109.8C1493.3 110.9 1493.2 112.0 1493.1 113.1C1492.9 114.2 1492.8 115.3 1492.6 116.4C1492.4 117.5 1492.2 118.6 1491.9 119.7C1491.7 120.8 1491.4 121.8 1491.1 122.9C1490.8 124.0 1490.5 125.1 1490.1 126.1C1489.7 127.1 1489.2 128.2 1488.8 129.2C1488.3 130.2 1487.8 131.2 1487.3 132.2C1486.8 133.2 1486.3 134.2 1485.7 135.1C1485.1 136.1 1484.4 136.9 1483.7 137.8C1483.1 138.7 1482.4 139.5 1481.6 140.3C1480.9 141.1 1480.2 141.9 1479.3 142.7C1478.5 143.4 1477.6 144.0 1476.7 144.7C1475.9 145.3 1475.0 145.9 1474.0 146.5C1473.1 147.1 1472.1 147.7 1471.2 148.3C1470.2 148.8 1469.2 149.3 1468.2 149.8C1467.2 150.3 1466.1 150.8 1465.1 151.3C1464.1 151.8 1463.1 152.3 1462.0 152.8C1461.0 153.3 1460.0 153.8 1459.0 154.3C1458.0 154.9 1456.9 155.4 1455.9 155.9C1454.9 156.5 1453.9 157.0 1453.0 157.6C1452.0 158.2 1451.1 158.8 1450.2 159.4C1449.2 160.0 1448.3 160.7 1447.4 161.4C1446.5 162.0 1445.6 162.7 1444.8 163.4C1443.9 164.1 1443.1 164.8 1442.2 165.6C1441.4 166.3 1440.6 167.1 1439.7 167.8C1438.9 168.6 1438.1 169.4 1437.3 170.2C1436.5 171.0 1435.7 171.8 1434.9 172.6C1434.1 173.4 1433.4 174.2 1432.6 175.0C1431.8 175.9 1431.0 176.7 1430.3 177.5C1429.5 178.4 1428.8 179.2 1428.0 180.1C1427.2 180.9 1426.5 181.7 1425.7 182.6C1424.9 183.4 1424.2 184.3 1423.4 185.1C1422.6 186.0 1421.9 186.8 1421.1 187.6C1420.3 188.5 1419.6 189.3 1418.8 190.1C1418.0 190.9 1417.2 191.8 1416.4 192.6C1415.6 193.4 1414.8 194.2 1414.0 195.0C1413.2 195.8 1412.4 196.5 1411.5 197.3C1410.7 198.1 1409.9 198.9 1409.0 199.6C1408.2 200.4 1407.3 201.1 1406.5 201.9C1405.6 202.6 1404.8 203.3 1403.9 204.1C1403.0 204.8 1402.2 205.5 1401.3 206.2C1400.4 207.0 1399.5 207.7 1398.6 208.4C1397.8 209.1 1396.9 209.8 1396.0 210.5C1395.1 211.2 1394.2 211.9 1393.3 212.6C1392.4 213.3 1391.5 214.0 1390.6 214.7C1389.7 215.4 1388.8 216.1 1387.9 216.7C1387.0 217.4 1386.1 218.1 1385.2 218.8C1384.3 219.5 1383.4 220.2 1382.5 220.9C1381.6 221.6 1380.7 222.2 1379.8 222.9C1378.9 223.6 1378.0 224.3 1377.1 225.0C1376.2 225.7 1375.3 226.4 1374.4 227.1C1373.5 227.8 1372.6 228.5 1371.7 229.2C1370.8 229.9 1369.9 230.6 1369.1 231.3C1368.2 232.0 1367.3 232.7 1366.4 233.5C1365.5 234.2 1364.7 234.9 1363.8 235.6C1362.9 236.3 1362.1 237.1 1361.2 237.8C1360.3 238.5 1359.5 239.2 1358.6 240.0C1357.7 240.7 1356.9 241.4 1356.0 242.2C1355.2 242.9 1354.3 243.6 1353.5 244.4C1352.6 245.1 1351.7 245.9 1350.9 246.6C1350.1 247.4 1349.2 248.1 1348.4 248.8C1347.5 249.6 1346.7 250.3 1345.8 251.1C1345.0 251.8 1344.1 252.6 1343.3 253.3C1342.5 254.1 1341.6 254.8 1340.8 255.6C1339.9 256.3 1339.1 257.1 1338.3 257.8C1337.4 258.6 1336.6 259.3 1335.8 260.1C1334.9 260.8 1334.1 261.6 1333.3 262.3C1332.4 263.1 1331.6 263.8 1330.8 264.6C1329.9 265.3 1329.1 266.1 1328.3 266.8C1327.4 267.6 1326.6 268.3 1325.8 269.1C1324.9 269.8 1324.1 270.6 1323.3 271.3C1322.4 272.1 1321.6 272.8 1320.8 273.6C1320.0 274.3 1319.1 275.1 1318.3 275.8C1317.5 276.5 1316.6 277.3 1315.8 278.0C1315.0 278.8 1314.1 279.5 1313.3 280.2C1312.5 281.0 1311.6 281.7 1310.8 282.4C1310.0 283.2 1309.2 283.9 1308.3 284.6C1307.5 285.4 1306.6 286.1 1305.8 286.8C1305.0 287.5 1304.1 288.2 1303.3 289.0C1302.5 289.7 1301.6 290.4 1300.8 291.1C1299.9 291.8 1299.1 292.5 1298.3 293.2C1297.4 294.0 1296.6 294.7 1295.7 295.4C1294.9 296.1 1294.0 296.8 1293.2 297.5C1292.3 298.2 1291.5 298.8 1290.6 299.5C1289.8 300.2 1288.9 300.9 1288.1 301.6C1287.2 302.3 1286.4 303.0 1285.5 303.6C1284.6 304.3 1283.8 305.0 1282.9 305.7C1282.0 306.3 1281.2 307.0 1280.3 307.7C1279.4 308.3 1278.6 309.0 1277.7 309.7C1276.8 310.3 1275.9 311.0 1275.0 311.6C1274.2 312.3 1273.3 312.9 1272.4 313.6C1271.5 314.2 1270.6 314.8 1269.7 315.5C1268.8 316.1 1267.9 316.8 1267.0 317.4C1266.1 318.0 1265.2 318.6 1264.3 319.3C1263.4 319.9 1262.5 320.5 1261.6 321.1C1260.7 321.8 1259.8 322.4 1258.9 323.0C1258.0 323.6 1257.1 324.2 1256.1 324.8C1255.2 325.4 1254.3 326.0 1253.4 326.6C1252.5 327.2 1251.5 327.8 1250.6 328.4C1249.7 329.0 1248.7 329.6 1247.8 330.2C1246.9 330.8 1245.9 331.4 1245.0 332.0C1244.1 332.6 1243.1 333.2 1242.2 333.8C1241.2 334.3 1240.3 334.9 1239.3 335.5C1238.4 336.1 1237.4 336.7 1236.5 337.2C1235.5 337.8 1234.6 338.4 1233.6 339.0C1232.7 339.5 1231.7 340.1 1230.7 340.7C1229.8 341.2 1228.8 341.8 1227.9 342.4C1226.9 343.0 1225.9 343.5 1224.9 344.1C1224.0 344.6 1223.0 345.2 1222.0 345.8C1221.1 346.3 1220.1 346.9 1219.1 347.4C1218.1 348.0 1217.1 348.5 1216.2 349.1C1215.2 349.6 1214.2 350.2 1213.2 350.7C1212.2 351.3 1211.2 351.8 1210.2 352.4C1209.2 352.9 1208.2 353.5 1207.2 354.0C1206.3 354.5 1205.3 355.1 1204.3 355.6C1203.3 356.2 1202.3 356.7 1201.3 357.2C1200.3 357.8 1199.2 358.3 1198.2 358.8C1197.2 359.3 1196.2 359.9 1195.2 360.4C1194.2 360.9 1193.2 361.4 1192.2 361.9C1191.2 362.5 1190.2 363.0 1189.2 363.5C1188.2 364.0 1187.2 364.6 1186.1 365.1C1185.1 365.6 1184.1 366.1 1183.1 366.7C1182.1 367.2 1181.1 367.8 1180.1 368.3C1179.2 368.9 1178.2 369.4 1177.2 370.0C1176.2 370.5 1175.2 371.1 1174.2 371.7C1173.3 372.3 1172.3 372.9 1171.3 373.5C1170.4 374.1 1169.4 374.7 1168.5 375.3C1167.5 375.9 1166.5 376.5 1165.6 377.2C1164.7 377.8 1163.8 378.5 1162.8 379.2C1161.9 379.9 1161.0 380.6 1160.1 381.3C1159.2 382.0 1158.3 382.7 1157.4 383.5C1156.6 384.2 1155.7 385.0 1154.9 385.8C1154.0 386.5 1153.2 387.3 1152.3 388.1C1151.5 388.9 1150.6 389.7 1149.8 390.5C1149.0 391.4 1148.2 392.2 1147.5 393.1C1146.7 393.9 1145.9 394.8 1145.1 395.6C1144.3 396.4 1143.5 397.3 1142.8 398.2C1142.0 399.0 1141.2 399.9 1140.5 400.7C1139.7 401.6 1138.9 402.4 1138.2 403.2C1137.4 404.1 1136.6 404.9 1135.8 405.7C1135.1 406.5 1134.3 407.3 1133.5 408.1C1132.7 408.9 1131.9 409.7 1131.0 410.4C1130.2 411.2 1129.4 411.9 1128.6 412.7C1127.7 413.4 1126.8 414.0 1125.9 414.7C1125.0 415.4 1124.1 416.0 1123.2 416.6C1122.3 417.2 1121.4 417.8 1120.4 418.4C1119.5 419.1 1118.6 419.6 1117.6 420.3C1116.7 420.9 1115.8 421.5 1114.8 422.2C1113.9 422.8 1113.0 423.5 1112.1 424.2C1111.2 424.9 1110.4 425.7 1109.6 426.4C1108.8 427.2 1108.0 428.0 1107.2 428.8C1106.5 429.7 1105.7 430.5 1105.0 431.4C1104.4 432.3 1103.9 433.3 1103.3 434.3C1102.7 435.2 1102.2 436.2 1101.7 437.2C1101.1 438.2 1100.7 439.2 1100.2 440.3C1099.7 441.3 1099.2 442.3 1098.7 443.3C1098.2 444.3 1097.7 445.4 1097.2 446.4C1096.7 447.4 1096.2 448.4 1095.7 449.4C1095.2 450.4 1094.7 451.4 1094.2 452.4C1093.6 453.4 1093.1 454.4 1092.6 455.4C1092.1 456.5 1091.6 457.5 1091.1 458.5C1090.5 459.4 1090.0 460.4 1089.5 461.4C1089.0 462.4 1088.5 463.4 1088.0 464.4C1087.4 465.4 1086.9 466.4 1086.4 467.4C1085.9 468.4 1085.4 469.4 1084.9 470.4C1084.3 471.4 1083.8 472.4 1083.3 473.4C1082.8 474.4 1082.3 475.4 1081.8 476.3C1081.3 477.3 1080.8 478.3 1080.3 479.3C1079.8 480.3 1079.3 481.3 1078.8 482.3C1078.3 483.3 1077.8 484.3 1077.3 485.3C1076.8 486.3 1076.3 487.3 1075.9 488.3C1075.4 489.3 1074.9 490.3 1074.4 491.3C1074.0 492.3 1073.5 493.3 1073.0 494.3C1072.6 495.3 1072.1 496.3 1071.7 497.3C1071.2 498.4 1070.8 499.4 1070.3 500.4C1069.9 501.4 1069.4 502.4 1069.0 503.4C1068.5 504.4 1068.1 505.4 1067.7 506.4C1067.2 507.4 1066.8 508.5 1066.4 509.5C1065.9 510.5 1065.5 511.5 1065.1 512.5C1064.7 513.5 1064.2 514.5 1063.8 515.6C1063.4 516.6 1063.0 517.6 1062.6 518.6C1062.2 519.6 1061.7 520.6 1061.3 521.7C1060.9 522.7 1060.5 523.7 1060.1 524.7C1059.7 525.7 1059.3 526.7 1058.9 527.8C1058.5 528.8 1058.0 529.8 1057.6 530.8C1057.3 531.9 1056.9 533.0 1056.6 534.0C1056.2 535.1 1055.9 536.2 1055.5 537.2C1055.2 538.3 1054.8 539.4 1054.5 540.4C1054.2 541.5 1053.8 542.6 1053.5 543.7C1053.1 544.7 1052.8 545.8 1052.5 546.9C1052.1 548.0 1051.8 549.0 1051.5 550.1C1051.1 551.2 1050.8 552.3 1050.5 553.3C1050.1 554.4 1049.8 555.5 1049.5 556.6C1049.2 557.6 1048.8 558.7 1048.5 559.8C1048.2 560.9 1047.9 562.0 1047.5 563.0C1047.2 564.1 1046.9 565.2 1046.6 566.3C1046.2 567.3 1045.9 568.4 1045.6 569.5C1045.3 570.6 1044.9 571.7 1044.6 572.7C1044.3 573.8 1044.0 574.9 1043.7 576.0C1043.3 577.1 1043.0 578.1 1042.7 579.2C1042.4 580.3 1042.0 581.4 1041.7 582.5C1041.4 583.5 1041.1 584.6 1040.8 585.7C1040.4 586.8 1040.1 587.9 1039.8 588.9C1039.5 590.0 1039.2 591.1 1038.8 592.2C1038.5 593.3 1038.2 594.3 1037.9 595.4C1037.6 596.5 1037.3 597.6 1036.9 598.7C1036.6 599.7 1036.3 600.8 1036.0 601.9C1035.7 603.0 1035.4 604.1 1035.1 605.1C1034.8 606.2 1034.5 607.3 1034.2 608.4C1033.9 609.5 1033.6 610.5 1033.3 611.6C1033.0 612.7 1032.7 613.8 1032.4 614.9C1032.1 616.0 1031.9 617.1 1031.6 618.1C1031.3 619.2 1031.0 620.3 1030.8 621.4C1030.5 622.5 1030.2 623.6 1030.0 624.7C1029.7 625.8 1029.4 626.8 1029.2 627.9C1028.9 629.0 1028.7 630.1 1028.4 631.2C1028.2 632.3 1027.9 633.4 1027.7 634.5C1027.5 635.6 1027.2 636.7 1027.0 637.8C1026.8 638.9 1026.6 640.0 1026.4 641.1C1026.2 642.2 1025.9 643.3 1025.7 644.4C1025.5 645.5 1025.3 646.6 1025.2 647.7C1025.0 648.8 1024.8 649.9 1024.6 651.0C1024.4 652.1 1024.3 653.2 1024.1 654.3C1024.0 655.4 1023.8 656.5 1023.7 657.6C1023.5 658.8 1023.4 659.9 1023.2 661.0C1023.1 662.1 1023.0 663.2 1022.9 664.3C1022.8 665.5 1022.6 667.1 1022.6 667.7" stroke="#b8de29" stroke-width="8.3"/>
<path d="M932.4 567.0C932.4 566.5 932.4 564.8 932.4 563.7C932.4 562.5 932.4 561.4 932.4 560.3C932.4 559.2 932.4 558.0 932.4 556.9C932.4 555.8 932.4 554.7 932.3 553.6C932.3 552.4 932.3 551.3 932.3 550.2C932.3 549.1 932.3 548.0 932.3 546.8C932.3 545.7 932.3 544.6 932.3 543.5C932.3 542.3 932.3 541.2 932.3 540.1C932.3 539.0 932.3 537.9 932.3 536.7C932.3 535.6 932.3 534.5 932.3 533.4C932.3 532.3 932.3 531.1 932.3 530.0C932.4 528.9 932.4 527.8 932.4 526.7C932.4 525.5 932.4 524.4 932.4 523.3C932.4 522.2 932.4 521.0 932.4 519.9C932.4 518.8 932.4 517.7 932.4 516.6C932.4 515.4 932.4 514.3 932.4 513.2C932.4 512.1 932.4 511.0 932.4 509.8C932.4 508.7 932.4 507.6 932.4 506.5C932.4 505.4 932.4 504.2 932.4 503.1C932.4 502.0 932.4 500.9 932.4 499.8C932.4 498.6 932.4 497.5 932.4 496.4C932.4 495.3 932.4 494.1 932.4 493.0C932.4 491.9 932.4 490.8 932.4 489.7C932.4 488.5 932.4 487.4 932.4 486.3C932.4 485.2 932.4 484.1 932.4 482.9C932.4 481.8 932.4 480.7 932.5 479.6C932.5 478.5 932.5 477.3 932.5 476.2C932.5 475.1 932.5 474.0 932.5 472.8C932.5 471.7 932.5 470.6 932.5 469.5C932.5 468.4 932.5 467.2 932.5 466.1C932.5 465.0 932.5 463.9 932.4 462.8C932.4 461.6 932.4 460.5 932.4 459.4C932.4 458.3 932.4 457.1 932.4 456.0C932.4 454.9 932.4 453.8 932.4 452.7C932.4 451.5 932.4 450.4 932.4 449.3C932.4 448.2 932.4 447.1 932.4 445.9C932.4 444.8 932.4 443.7 932.4 442.6C932.4 441.5 932.3 440.4 932.3 439.3C932.3 438.2 932.3 437.2 932.3 436.1C932.2 435.0 932.2 433.9 932.2 432.8C932.2 431.7 932.1 430.7 932.1 429.6C932.1 428.5 932.1 427.4 932.0 426.3C932.0 425.2 932.0 424.1 932.0 423.0C932.0 421.9 932.0 420.8 932.0 419.7C932.0 418.6 932.0 417.5 932.1 416.4C932.1 415.3 932.2 414.3 932.4 413.2C932.6 412.2 932.8 411.1 933.2 410.1C933.5 409.1 933.8 408.1 934.4 407.2C934.9 406.3 935.7 405.5 936.4 404.6C937.1 403.8 937.8 403.0 938.6 402.1C939.4 401.3 940.3 400.5 941.1 399.7C941.9 399.0 942.8 398.2 943.6 397.4C944.5 396.6 945.3 395.9 946.1 395.1C946.9 394.3 947.7 393.5 948.5 392.7C949.3 391.9 950.0 391.1 950.8 390.3C951.5 389.5 952.3 388.8 953.1 388.0C953.9 387.2 954.6 386.4 955.5 385.6C956.3 384.9 957.1 384.1 957.9 383.4C958.8 382.6 959.6 381.9 960.4 381.2C961.3 380.5 962.2 379.8 963.0 379.1C963.9 378.4 964.8 377.8 965.8 377.2C966.7 376.6 967.6 376.0 968.6 375.4C969.5 374.8 970.5 374.2 971.4 373.7C972.4 373.2 973.4 372.7 974.4 372.2C975.4 371.7 976.4 371.3 977.4 370.8C978.4 370.4 979.4 369.9 980.5 369.5C981.5 369.1 982.6 368.8 983.6 368.4C984.7 368.0 985.7 367.7 986.8 367.3C987.8 367.0 988.9 366.7 990.0 366.4C991.0 366.1 992.1 365.8 993.2 365.5C994.3 365.3 995.3 365.0 996.4 364.7C997.5 364.5 998.6 364.2 999.7 364.0C1000.8 363.8 1001.9 363.5 1002.9 363.3C1004.0 363.1 1005.1 362.9 1006.2 362.7C1007.3 362.4 1008.4 362.2 1009.5 362.0C1010.6 361.8 1011.7 361.6 1012.8 361.4C1013.9 361.1 1015.0 360.9 1016.1 360.7C1017.2 360.5 1018.3 360.3 1019.3 360.0C1020.4 359.8 1021.5 359.5 1022.6 359.3C1023.7 359.1 1024.8 358.8 1025.9 358.6C1027.0 358.3 1028.1 358.1 1029.2 357.8C1030.3 357.6 1031.3 357.3 1032.4 357.0C1033.5 356.8 1034.6 356.5 1035.7 356.2C1036.8 356.0 1037.9 355.7 1039.0 355.4C1040.1 355.2 1041.1 354.9 1042.2 354.6C1043.3 354.3 1044.4 354.0 1045.5 353.8C1046.6 353.5 1047.7 353.2 1048.8 352.9C1049.9 352.6 1051.0 352.4 1052.0 352.1C1053.1 351.8 1054.2 351.5 1055.3 351.2C1056.4 351.0 1057.5 350.7 1058.6 350.4C1059.7 350.1 1060.8 349.9 1061.9 349.6C1063.0 349.3 1064.1 349.0 1065.2 348.8C1066.3 348.5 1067.4 348.2 1068.5 348.0C1069.6 347.7 1070.7 347.4 1071.8 347.2C1072.8 346.9 1073.9 346.6 1075.0 346.4C1076.1 346.1 1077.2 345.9 1078.3 345.6C1079.4 345.3 1080.5 345.1 1081.6 344.8C1082.7 344.6 1083.8 344.3 1084.9 344.0C1086.0 343.8 1087.1 343.5 1088.2 343.3C1089.3 343.0 1090.4 342.7 1091.5 342.5C1092.6 342.2 1093.7 341.9 1094.8 341.7C1095.9 341.4 1097.0 341.1 1098.1 340.8C1099.2 340.6 1100.3 340.3 1101.4 340.0C1102.5 339.7 1103.6 339.4 1104.7 339.1C1105.8 338.8 1106.8 338.5 1107.9 338.2C1109.0 337.9 1110.1 337.6 1111.2 337.3C1112.3 337.0 1113.3 336.7 1114.4 336.3C1115.5 336.0 1116.6 335.7 1117.7 335.3C1118.7 335.0 1119.8 334.7 1120.9 334.3C1122.0 334.0 1123.0 333.6 1124.1 333.3C1125.2 332.9 1126.3 332.6 1127.3 332.2C1128.4 331.9 1129.5 331.5 1130.5 331.2C1131.6 330.8 1132.7 330.4 1133.7 330.1C1134.8 329.7 1135.9 329.4 1136.9 329.0C1138.0 328.6 1139.1 328.3 1140.1 327.9C1141.2 327.6 1142.2 327.2 1143.3 326.9C1144.4 326.5 1145.4 326.1 1146.5 325.8C1147.5 325.4 1148.6 325.1 1149.7 324.7C1150.7 324.4 1151.8 324.0 1152.8 323.7C1153.9 323.3 1155.0 323.0 1156.0 322.6C1157.1 322.3 1158.1 321.9 1159.2 321.6C1160.2 321.3 1161.3 320.9 1162.4 320.6C1163.4 320.2 1164.5 319.9 1165.5 319.6C1166.6 319.2 1167.7 318.9 1168.7 318.6C1169.8 318.2 1170.8 317.9 1171.9 317.6C1172.9 317.2 1174.0 316.9 1175.1 316.6C1176.1 316.2 1177.2 315.9 1178.2 315.6C1179.3 315.2 1180.3 314.9 1181.4 314.6C1182.4 314.2 1183.5 313.9 1184.5 313.5C1185.6 313.2 1186.6 312.8 1187.7 312.5C1188.7 312.1 1189.8 311.8 1190.8 311.4C1191.9 311.0 1192.9 310.7 1194.0 310.3C1195.0 309.9 1196.1 309.6 1197.1 309.2C1198.1 308.8 1199.2 308.4 1200.2 308.0C1201.3 307.6 1202.3 307.2 1203.3 306.8C1204.4 306.4 1205.4 306.0 1206.4 305.5C1207.5 305.1 1208.5 304.7 1209.5 304.2C1210.5 303.8 1211.6 303.4 1212.6 302.9C1213.6 302.4 1214.6 302.0 1215.6 301.5C1216.7 301.0 1217.7 300.6 1218.7 300.1C1219.7 299.6 1220.7 299.1 1221.7 298.6C1222.7 298.1 1223.7 297.6 1224.7 297.1C1225.7 296.6 1226.7 296.0 1227.7 295.5C1228.7 295.0 1229.7 294.5 1230.7 293.9C1231.7 293.4 1232.7 292.8 1233.7 292.3C1234.7 291.7 1235.7 291.2 1236.7 290.6C1237.7 290.1 1238.6 289.5 1239.6 288.9C1240.6 288.3 1241.6 287.8 1242.6 287.2C1243.5 286.6 1244.5 286.0 1245.5 285.4C1246.4 284.8 1247.4 284.2 1248.4 283.6C1249.4 283.0 1250.3 282.4 1251.3 281.8C1252.2 281.2 1253.2 280.6 1254.2 280.0C1255.1 279.4 1256.1 278.8 1257.0 278.1C1258.0 277.5 1258.9 276.9 1259.9 276.3C1260.8 275.6 1261.8 275.0 1262.7 274.4C1263.7 273.7 1264.6 273.1 1265.5 272.5C1266.5 271.8 1267.4 271.2 1268.3 270.5C1269.3 269.9 1270.2 269.2 1271.1 268.6C1272.1 267.9 1273.0 267.3 1273.9 266.7C1274.8 266.0 1275.8 265.3 1276.7 264.7C1277.6 264.0 1278.5 263.4 1279.4 262.7C1280.3 262.1 1281.3 261.4 1282.2 260.8C1283.1 260.1 1284.0 259.4 1284.9 258.8C1285.8 258.1 1286.7 257.5 1287.6 256.8C1288.5 256.1 1289.4 255.5 1290.3 254.8C1291.2 254.1 1292.1 253.5 1293.0 252.8C1293.9 252.1 1294.7 251.5 1295.6 250.8C1296.5 250.1 1297.4 249.4 1298.3 248.8C1299.2 248.1 1300.0 247.4 1300.9 246.7C1301.8 246.0 1302.7 245.4 1303.5 244.7C1304.4 244.0 1305.3 243.3 1306.2 242.6C1307.0 241.9 1307.9 241.2 1308.7 240.5C1309.6 239.8 1310.5 239.1 1311.3 238.5C1312.2 237.8 1313.0 237.1 1313.9 236.4C1314.7 235.6 1315.6 234.9 1316.4 234.2C1317.3 233.5 1318.1 232.8 1319.0 232.1C1319.8 231.4 1320.6 230.7 1321.5 230.0C1322.3 229.2 1323.1 228.5 1324.0 227.8C1324.8 227.1 1325.6 226.3 1326.5 225.6C1327.3 224.9 1328.1 224.1 1328.9 223.4C1329.8 222.7 1330.6 221.9 1331.4 221.2C1332.2 220.5 1333.0 219.7 1333.9 219.0C1334.7 218.2 1335.5 217.5 1336.3 216.7C1337.1 216.0 1337.9 215.2 1338.7 214.5C1339.5 213.7 1340.3 213.0 1341.1 212.2C1341.9 211.4 1342.7 210.7 1343.5 209.9C1344.3 209.2 1345.1 208.4 1345.9 207.6C1346.7 206.9 1347.5 206.1 1348.3 205.3C1349.1 204.5 1349.9 203.8 1350.7 203.0C1351.5 202.2 1352.3 201.4 1353.1 200.7C1353.8 199.9 1354.6 199.1 1355.4 198.3C1356.2 197.5 1357.0 196.8 1357.8 196.0C1358.6 195.2 1359.4 194.4 1360.1 193.6C1360.9 192.8 1361.7 192.0 1362.5 191.2C1363.3 190.5 1364.1 189.7 1364.8 188.9C1365.6 188.1 1366.4 187.3 1367.2 186.5C1368.0 185.7 1368.7 184.9 1369.5 184.1C1370.3 183.3 1371.1 182.5 1371.9 181.7C1372.6 180.9 1373.4 180.1 1374.2 179.3C1375.0 178.4 1375.7 177.6 1376.5 176.8C1377.3 176.0 1378.1 175.2 1378.9 174.4C1379.6 173.6 1380.4 172.8 1381.2 172.0C1382.0 171.2 1382.8 170.3 1383.5 169.5C1384.3 168.7 1385.1 167.9 1385.9 167.1C1386.7 166.3 1387.4 165.5 1388.2 164.6C1389.0 163.8 1389.8 163.0 1390.6 162.2C1391.4 161.4 1392.1 160.6 1392.9 159.7C1393.7 158.9 1394.5 158.1 1395.3 157.3C1396.1 156.5 1396.9 155.7 1397.7 154.8C1398.4 154.0 1399.2 153.2 1400.0 152.4C1400.8 151.6 1401.6 150.8 1402.4 149.9C1403.2 149.1 1404.0 148.3 1404.8 147.5C1405.6 146.7 1406.4 145.9 1407.2 145.1C1408.0 144.3 1408.8 143.4 1409.6 142.6C1410.4 141.8 1411.2 141.0 1412.0 140.2C1412.8 139.4 1413.6 138.6 1414.4 137.8C1415.2 137.0 1416.1 136.2 1416.9 135.4C1417.7 134.6 1418.5 133.8 1419.3 133.0C1420.1 132.2 1421.0 131.4 1421.8 130.6C1422.6 129.8 1423.4 129.0 1424.3 128.2C1425.1 127.4 1425.9 126.6 1426.8 125.9C1427.6 125.1 1428.4 124.3 1429.3 123.5C1430.1 122.7 1430.9 121.9 1431.8 121.2C1432.6 120.4 1433.5 119.6 1434.3 118.9C1435.2 118.1 1436.0 117.3 1436.9 116.6C1437.7 115.8 1438.6 115.0 1439.4 114.3C1440.3 113.5 1441.2 112.8 1442.0 112.0C1442.9 111.3 1443.8 110.5 1444.6 109.8C1445.5 109.1 1446.4 108.4 1447.3 107.8C1448.2 107.1 1449.1 106.4 1450.1 105.8C1451.0 105.2 1451.9 104.5 1452.8 103.9C1453.8 103.4 1454.7 102.9 1455.7 102.4C1456.7 101.9 1457.7 101.4 1458.7 101.0C1459.7 100.6 1460.7 100.2 1461.7 99.8C1462.8 99.5 1463.9 99.3 1465.0 99.1C1466.1 98.9 1467.2 98.7 1468.3 98.6C1469.5 98.5 1471.2 98.4 1471.8 98.3" stroke="#21918c" stroke-width="8.3"/>
<path d="M1465.6 98.0C1465.7 98.6 1466.2 100.4 1466.4 101.5C1466.6 102.5 1466.8 103.2 1466.9 104.1C1466.9 104.9 1466.9 105.9 1466.6 106.7C1466.3 107.6 1465.7 108.3 1465.2 109.1C1464.7 109.9 1464.2 110.7 1463.6 111.5C1463.1 112.3 1462.5 113.1 1461.8 113.9C1461.2 114.6 1460.5 115.4 1459.9 116.2C1459.2 116.9 1458.5 117.7 1457.8 118.5C1457.1 119.3 1456.4 120.1 1455.7 120.9C1455.0 121.7 1454.3 122.4 1453.6 123.2C1452.8 124.0 1452.1 124.8 1451.4 125.6C1450.6 126.4 1449.9 127.2 1449.1 128.0C1448.4 128.8 1447.6 129.6 1446.9 130.5C1446.2 131.3 1445.4 132.1 1444.7 132.9C1443.9 133.8 1443.2 134.6 1442.4 135.5C1441.7 136.3 1441.0 137.2 1440.2 138.0C1439.5 138.9 1438.8 139.7 1438.0 140.6C1437.3 141.5 1436.6 142.3 1435.9 143.2C1435.1 144.1 1434.4 145.0 1433.7 145.8C1433.0 146.7 1432.3 147.6 1431.5 148.5C1430.8 149.3 1430.1 150.2 1429.4 151.1C1428.7 152.0 1428.0 152.9 1427.3 153.8C1426.5 154.6 1425.8 155.5 1425.1 156.4C1424.4 157.3 1423.7 158.2 1423.0 159.1C1422.3 160.0 1421.6 160.9 1420.9 161.7C1420.2 162.6 1419.4 163.5 1418.7 164.4C1418.0 165.3 1417.3 166.2 1416.6 167.1C1415.9 168.0 1415.2 168.9 1414.5 169.7C1413.8 170.6 1413.1 171.5 1412.3 172.4C1411.6 173.3 1410.9 174.2 1410.2 175.1C1409.5 175.9 1408.8 176.8 1408.1 177.7C1407.3 178.6 1406.6 179.5 1405.9 180.3C1405.2 181.2 1404.5 182.1 1403.7 182.9C1403.0 183.8 1402.3 184.7 1401.6 185.5C1400.8 186.4 1400.1 187.3 1399.4 188.1C1398.6 189.0 1397.9 189.8 1397.2 190.7C1396.4 191.5 1395.7 192.4 1395.0 193.2C1394.2 194.1 1393.5 194.9 1392.7 195.7C1392.0 196.6 1391.2 197.4 1390.5 198.2C1389.7 199.0 1388.9 199.9 1388.2 200.7C1387.4 201.5 1386.7 202.3 1385.9 203.1C1385.1 203.9 1384.3 204.7 1383.6 205.5C1382.8 206.3 1382.0 207.1 1381.2 207.9C1380.5 208.7 1379.7 209.5 1378.9 210.3C1378.1 211.1 1377.3 211.9 1376.5 212.7C1375.7 213.4 1374.9 214.2 1374.1 215.0C1373.3 215.8 1372.5 216.5 1371.7 217.3C1370.9 218.1 1370.1 218.8 1369.3 219.6C1368.5 220.3 1367.7 221.1 1366.8 221.9C1366.0 222.6 1365.2 223.4 1364.4 224.1C1363.5 224.8 1362.7 225.6 1361.9 226.3C1361.1 227.1 1360.2 227.8 1359.4 228.5C1358.5 229.3 1357.7 230.0 1356.9 230.7C1356.0 231.5 1355.2 232.2 1354.3 232.9C1353.5 233.6 1352.6 234.4 1351.8 235.1C1350.9 235.8 1350.1 236.5 1349.2 237.2C1348.4 237.9 1347.5 238.7 1346.6 239.4C1345.8 240.1 1344.9 240.8 1344.1 241.5C1343.2 242.2 1342.3 242.9 1341.5 243.6C1340.6 244.3 1339.7 245.0 1338.9 245.7C1338.0 246.4 1337.1 247.1 1336.2 247.9C1335.4 248.6 1334.5 249.3 1333.6 250.0C1332.8 250.7 1331.9 251.4 1331.0 252.1C1330.1 252.8 1329.3 253.5 1328.4 254.2C1327.5 254.8 1326.6 255.5 1325.7 256.2C1324.9 256.9 1324.0 257.6 1323.1 258.3C1322.2 259.0 1321.4 259.7 1320.5 260.4C1319.6 261.1 1318.7 261.8 1317.8 262.5C1317.0 263.2 1316.1 263.9 1315.2 264.6C1314.3 265.3 1313.5 266.0 1312.6 266.7C1311.7 267.4 1310.8 268.1 1310.0 268.9C1309.1 269.6 1308.2 270.3 1307.3 271.0C1306.4 271.7 1305.6 272.4 1304.7 273.1C1303.8 273.8 1302.9 274.5 1302.0 275.2C1301.2 275.9 1300.3 276.6 1299.4 277.3C1298.5 278.0 1297.7 278.7 1296.8 279.4C1295.9 280.1 1295.0 280.8 1294.1 281.5C1293.3 282.2 1292.4 282.9 1291.5 283.6C1290.6 284.3 1289.7 285.0 1288.8 285.7C1288.0 286.4 1287.1 287.1 1286.2 287.8C1285.3 288.5 1284.4 289.2 1283.5 289.9C1282.7 290.5 1281.8 291.2 1280.9 291.9C1280.0 292.6 1279.1 293.3 1278.2 294.0C1277.3 294.7 1276.4 295.4 1275.6 296.1C1274.7 296.8 1273.8 297.4 1272.9 298.1C1272.0 298.8 1271.1 299.5 1270.2 300.2C1269.3 300.9 1268.4 301.6 1267.5 302.2C1266.6 302.9 1265.7 303.6 1264.8 304.3C1263.9 304.9 1263.0 305.6 1262.1 306.3C1261.2 307.0 1260.4 307.6 1259.5 308.3C1258.5 309.0 1257.6 309.6 1256.7 310.3C1255.8 311.0 1254.9 311.6 1254.0 312.3C1253.1 313.0 1252.2 313.6 1251.3 314.3C1250.4 314.9 1249.5 315.6 1248.6 316.3C1247.7 316.9 1246.8 317.6 1245.8 318.2C1244.9 318.9 1244.0 319.5 1243.1 320.2C1242.2 320.8 1241.3 321.4 1240.3 322.1C1239.4 322.7 1238.5 323.4 1237.6 324.0C1236.7 324.6 1235.7 325.3 1234.8 325.9C1233.9 326.5 1233.0 327.1 1232.0 327.8C1231.1 328.4 1230.2 329.0 1229.2 329.6C1228.3 330.3 1227.4 330.9 1226.4 331.5C1225.5 332.1 1224.6 332.7 1223.6 333.3C1222.7 333.9 1221.7 334.5 1220.8 335.1C1219.9 335.7 1218.9 336.3 1218.0 336.9C1217.0 337.5 1216.1 338.1 1215.1 338.7C1214.2 339.3 1213.2 339.9 1212.3 340.5C1211.3 341.1 1210.4 341.6 1209.4 342.2C1208.4 342.8 1207.5 343.4 1206.5 343.9C1205.6 344.5 1204.6 345.1 1203.6 345.6C1202.7 346.2 1201.7 346.8 1200.7 347.3C1199.8 347.9 1198.8 348.4 1197.8 349.0C1196.8 349.5 1195.9 350.1 1194.9 350.6C1193.9 351.1 1192.9 351.7 1191.9 352.2C1191.0 352.7 1190.0 353.3 1189.0 353.8C1188.0 354.3 1187.0 354.8 1186.0 355.3C1185.0 355.9 1184.0 356.4 1183.0 356.9C1182.0 357.4 1181.0 357.9 1180.0 358.4C1179.0 358.9 1178.0 359.4 1177.0 359.8C1176.0 360.3 1175.0 360.8 1174.0 361.3C1173.0 361.8 1171.9 362.2 1170.9 362.7C1169.9 363.2 1168.9 363.6 1167.9 364.1C1166.9 364.6 1165.8 365.0 1164.8 365.5C1163.8 365.9 1162.8 366.4 1161.7 366.8C1160.7 367.3 1159.7 367.7 1158.6 368.2C1157.6 368.6 1156.6 369.1 1155.6 369.5C1154.5 370.0 1153.5 370.4 1152.5 370.9C1151.4 371.3 1150.4 371.7 1149.4 372.2C1148.3 372.6 1147.3 373.1 1146.3 373.5C1145.2 373.9 1144.2 374.4 1143.2 374.8C1142.1 375.3 1141.1 375.7 1140.1 376.2C1139.1 376.6 1138.0 377.1 1137.0 377.6C1136.0 378.0 1135.0 378.5 1133.9 379.0C1132.9 379.4 1131.9 379.9 1130.9 380.4C1129.9 380.9 1128.9 381.3 1127.8 381.8C1126.8 382.3 1125.8 382.8 1124.8 383.3C1123.8 383.8 1122.8 384.4 1121.9 384.9C1120.9 385.4 1119.9 385.9 1118.9 386.5C1117.9 387.0 1116.9 387.6 1116.0 388.1C1115.0 388.7 1114.0 389.3 1113.1 389.8C1112.1 390.4 1111.1 391.0 1110.2 391.6C1109.2 392.2 1108.3 392.8 1107.4 393.4C1106.4 394.0 1105.5 394.7 1104.6 395.3C1103.7 395.9 1102.7 396.6 1101.8 397.2C1100.9 397.9 1100.0 398.5 1099.1 399.2C1098.3 399.9 1097.4 400.6 1096.5 401.2C1095.6 401.9 1094.7 402.6 1093.9 403.3C1093.0 404.0 1092.2 404.8 1091.3 405.5C1090.5 406.2 1089.7 406.9 1088.9 407.7C1088.0 408.4 1087.2 409.2 1086.4 409.9C1085.6 410.7 1084.8 411.4 1084.1 412.2C1083.3 413.0 1082.5 413.8 1081.7 414.5C1081.0 415.3 1080.2 416.1 1079.5 416.9C1078.8 417.7 1078.0 418.5 1077.3 419.4C1076.6 420.2 1075.9 421.0 1075.2 421.8C1074.5 422.6 1073.8 423.5 1073.1 424.3C1072.4 425.1 1071.7 425.9 1071.0 426.8C1070.3 427.6 1069.6 428.4 1068.9 429.2C1068.1 430.0 1067.4 430.8 1066.7 431.6C1066.0 432.4 1065.2 433.2 1064.4 433.9C1063.6 434.7 1062.9 435.4 1062.0 436.2C1061.2 436.9 1060.4 437.7 1059.6 438.4C1058.7 439.1 1057.8 439.7 1056.9 440.4C1056.0 441.0 1055.1 441.7 1054.2 442.3C1053.3 443.0 1052.3 443.6 1051.4 444.3C1050.5 444.9 1049.5 445.6 1048.6 446.3C1047.8 446.9 1046.9 447.6 1046.0 448.3C1045.1 449.0 1044.3 449.7 1043.5 450.4C1042.6 451.2 1041.9 452.0 1041.2 452.8C1040.4 453.6 1039.7 454.4 1039.0 455.2C1038.3 456.1 1037.6 456.9 1036.9 457.8C1036.3 458.7 1035.7 459.6 1035.1 460.5C1034.5 461.4 1033.9 462.3 1033.4 463.3C1032.8 464.2 1032.3 465.2 1031.7 466.1C1031.2 467.1 1030.7 468.1 1030.3 469.1C1029.8 470.1 1029.3 471.2 1028.9 472.2C1028.4 473.2 1027.9 474.2 1027.5 475.3C1027.1 476.3 1026.7 477.4 1026.3 478.5C1025.9 479.5 1025.5 480.6 1025.1 481.7C1024.7 482.7 1024.4 483.8 1024.0 484.9C1023.6 486.0 1023.3 487.1 1022.9 488.2C1022.6 489.2 1022.2 490.3 1021.9 491.4C1021.5 492.5 1021.2 493.6 1020.8 494.7C1020.5 495.8 1020.1 496.9 1019.8 498.0C1019.4 499.0 1019.1 500.1 1018.8 501.2C1018.4 502.3 1018.1 503.4 1017.7 504.4C1017.4 505.5 1017.0 506.6 1016.7 507.7C1016.3 508.7 1016.0 509.8 1015.6 510.9C1015.3 511.9 1014.9 513.0 1014.6 514.0C1014.2 515.1 1013.9 516.1 1013.5 517.2C1013.2 518.2 1012.8 519.3 1012.5 520.3C1012.1 521.4 1011.8 522.4 1011.4 523.4C1011.0 524.5 1010.7 525.5 1010.3 526.5C1009.9 527.6 1009.5 528.6 1009.2 529.6C1008.8 530.6 1008.4 531.6 1008.1 532.7C1007.8 533.7 1007.7 534.9 1007.5 536.0C1007.2 537.1 1007.0 538.2 1006.8 539.3C1006.6 540.4 1006.4 541.5 1006.2 542.6C1006.0 543.7 1005.8 544.8 1005.6 545.9C1005.4 547.0 1005.2 548.1 1005.0 549.2C1004.9 550.3 1004.7 551.4 1004.5 552.5C1004.3 553.6 1004.1 554.7 1004.0 555.8C1003.8 556.9 1003.6 558.0 1003.5 559.1C1003.3 560.2 1003.1 561.3 1003.0 562.5C1002.8 563.6 1002.7 564.7 1002.5 565.8C1002.4 566.9 1002.2 568.0 1002.1 569.1C1001.9 570.2 1001.8 571.3 1001.6 572.4C1001.5 573.5 1001.4 574.7 1001.2 575.8C1001.1 576.9 1001.0 578.0 1000.8 579.1C1000.7 580.2 1000.6 581.3 1000.5 582.4C1000.3 583.6 1000.2 584.7 1000.1 585.8C1000.0 586.9 999.9 588.0 999.8 589.1C999.7 590.2 999.6 591.3 999.5 592.5C999.4 593.6 999.3 594.7 999.2 595.8C999.1 596.9 999.0 598.0 998.9 599.2C998.8 600.3 998.7 601.4 998.6 602.5C998.5 603.6 998.4 604.7 998.3 605.9C998.3 607.0 998.2 608.1 998.1 609.2C998.0 610.3 997.9 611.4 997.9 612.6C997.8 613.7 997.7 614.8 997.6 615.9C997.6 617.0 997.5 618.2 997.4 619.3C997.4 620.4 997.3 621.5 997.2 622.6C997.2 623.8 997.1 624.9 997.1 626.0C997.0 627.1 996.9 628.2 996.9 629.4C996.8 630.5 996.8 631.6 996.7 632.7C996.7 633.8 996.6 635.0 996.6 636.1C996.5 637.2 996.5 638.3 996.4 639.4C996.4 640.6 996.3 641.7 996.3 642.8C996.2 643.9 996.2 645.0 996.2 646.2C996.1 647.3 996.1 648.4 996.0 649.5C996.0 650.7 996.0 651.8 995.9 652.9C995.9 654.0 995.9 655.1 995.8 656.3C995.8 657.4 995.8 658.5 995.7 659.6C995.7 660.7 995.7 661.9 995.7 663.0C995.6 664.1 995.6 665.8 995.6 666.4" stroke="#21918c" stroke-width="8.3"/>
<path d="M932.5 552.1C932.5 551.5 932.4 549.8 932.4 548.7C932.4 547.6 932.4 546.5 932.4 545.3C932.4 544.2 932.4 543.1 932.4 542.0C932.3 540.8 932.3 539.7 932.3 538.6C932.3 537.5 932.3 536.3 932.3 535.2C932.3 534.1 932.3 533.0 932.3 531.9C932.3 530.7 932.3 529.6 932.3 528.5C932.3 527.4 932.3 526.2 932.3 525.1C932.3 524.0 932.3 522.9 932.3 521.8C932.3 520.6 932.3 519.5 932.3 518.4C932.3 517.3 932.3 516.2 932.3 515.0C932.3 513.9 932.3 512.8 932.3 511.7C932.3 510.6 932.3 509.4 932.4 508.3C932.4 507.2 932.4 506.1 932.4 505.0C932.4 503.8 932.4 502.7 932.4 501.6C932.4 500.5 932.4 499.4 932.4 498.2C932.4 497.1 932.4 496.0 932.4 494.9C932.5 493.8 932.5 492.6 932.5 491.5C932.5 490.4 932.5 489.3 932.5 488.2C932.5 487.0 932.5 485.9 932.5 484.8C932.5 483.7 932.5 482.6 932.5 481.4C932.6 480.3 932.6 479.2 932.6 478.1C932.6 477.0 932.6 475.8 932.6 474.7C932.6 473.6 932.6 472.5 932.6 471.4C932.6 470.2 932.6 469.1 932.6 468.0C932.6 466.9 932.6 465.8 932.6 464.6C932.6 463.5 932.6 462.4 932.6 461.3C932.6 460.2 932.6 459.0 932.6 457.9C932.6 456.8 932.6 455.7 932.6 454.6C932.6 453.4 932.6 452.3 932.6 451.2C932.6 450.1 932.6 448.9 932.6 447.8C932.6 446.7 932.6 445.6 932.6 444.4C932.6 443.3 932.6 442.2 932.6 441.1C932.6 440.0 932.6 438.8 932.5 437.7C932.5 436.6 932.5 435.5 932.5 434.3C932.5 433.2 932.5 432.1 932.5 431.0C932.4 429.8 932.4 428.7 932.4 427.6C932.4 426.4 932.3 425.3 932.3 424.1C932.2 423.0 932.2 421.8 932.2 420.7C932.1 419.6 932.1 418.4 932.0 417.3C932.0 416.2 932.0 415.0 931.9 413.9C931.9 412.8 931.9 411.7 931.9 410.6C931.9 409.4 931.9 408.3 931.9 407.2C932.0 406.1 932.0 405.0 932.1 403.9C932.2 402.9 932.2 401.8 932.4 400.7C932.6 399.6 932.8 398.6 933.1 397.6C933.4 396.5 933.7 395.5 934.1 394.5C934.5 393.5 934.9 392.5 935.4 391.6C935.9 390.6 936.5 389.7 937.1 388.8C937.7 387.9 938.3 387.0 938.9 386.1C939.6 385.3 940.3 384.4 941.0 383.5C941.7 382.7 942.5 381.9 943.2 381.1C944.0 380.3 944.7 379.5 945.5 378.7C946.3 377.9 947.1 377.2 947.9 376.4C948.7 375.7 949.5 375.0 950.4 374.3C951.2 373.6 952.1 372.9 952.9 372.2C953.8 371.5 954.6 370.9 955.5 370.2C956.4 369.6 957.3 369.0 958.2 368.5C959.2 367.9 960.1 367.3 961.0 366.8C962.0 366.3 962.9 365.7 963.9 365.2C964.8 364.8 965.8 364.3 966.8 363.9C967.8 363.5 968.8 363.1 969.8 362.7C970.9 362.3 971.9 362.0 972.9 361.6C974.0 361.3 975.0 361.0 976.1 360.7C977.1 360.4 978.2 360.2 979.3 359.9C980.3 359.6 981.4 359.4 982.5 359.1C983.5 358.9 984.6 358.7 985.7 358.5C986.8 358.2 987.9 358.0 989.0 357.8C990.1 357.6 991.2 357.4 992.3 357.2C993.4 357.0 994.5 356.8 995.6 356.7C996.7 356.5 997.8 356.3 998.9 356.1C1000.0 355.9 1001.1 355.7 1002.2 355.5C1003.3 355.3 1004.4 355.1 1005.5 354.8C1006.6 354.6 1007.7 354.4 1008.8 354.2C1009.9 354.0 1011.0 353.7 1012.0 353.5C1013.1 353.3 1014.2 353.0 1015.3 352.8C1016.4 352.6 1017.5 352.3 1018.6 352.1C1019.6 351.8 1020.7 351.6 1021.8 351.3C1022.9 351.1 1024.0 350.8 1025.1 350.6C1026.2 350.3 1027.2 350.1 1028.3 349.8C1029.4 349.6 1030.5 349.3 1031.6 349.1C1032.7 348.8 1033.8 348.6 1034.9 348.3C1036.0 348.1 1037.1 347.8 1038.2 347.6C1039.3 347.3 1040.3 347.1 1041.4 346.8C1042.5 346.5 1043.6 346.3 1044.7 346.0C1045.8 345.8 1046.9 345.5 1048.0 345.3C1049.1 345.0 1050.2 344.7 1051.3 344.5C1052.4 344.2 1053.5 343.9 1054.6 343.7C1055.7 343.4 1056.8 343.1 1057.9 342.8C1059.0 342.6 1060.1 342.3 1061.2 342.0C1062.3 341.7 1063.4 341.5 1064.5 341.2C1065.6 340.9 1066.7 340.6 1067.8 340.3C1068.9 340.0 1070.0 339.7 1071.1 339.4C1072.2 339.2 1073.3 338.9 1074.4 338.5C1075.5 338.2 1076.6 337.9 1077.6 337.6C1078.7 337.3 1079.8 337.0 1080.9 336.7C1082.0 336.4 1083.1 336.1 1084.2 335.7C1085.3 335.4 1086.4 335.1 1087.4 334.8C1088.5 334.4 1089.6 334.1 1090.7 333.8C1091.8 333.4 1092.9 333.1 1093.9 332.7C1095.0 332.4 1096.1 332.0 1097.2 331.7C1098.3 331.3 1099.3 331.0 1100.4 330.6C1101.5 330.3 1102.6 329.9 1103.6 329.5C1104.7 329.2 1105.8 328.8 1106.9 328.5C1107.9 328.1 1109.0 327.7 1110.1 327.4C1111.2 327.0 1112.2 326.6 1113.3 326.2C1114.4 325.9 1115.4 325.5 1116.5 325.1C1117.6 324.7 1118.6 324.4 1119.7 324.0C1120.8 323.6 1121.9 323.2 1122.9 322.8C1124.0 322.5 1125.1 322.1 1126.1 321.7C1127.2 321.3 1128.3 321.0 1129.3 320.6C1130.4 320.2 1131.5 319.8 1132.5 319.4C1133.6 319.1 1134.7 318.7 1135.8 318.3C1136.8 317.9 1137.9 317.5 1139.0 317.2C1140.0 316.8 1141.1 316.4 1142.2 316.0C1143.3 315.7 1144.3 315.3 1145.4 314.9C1146.5 314.6 1147.5 314.2 1148.6 313.8C1149.7 313.4 1150.8 313.1 1151.8 312.7C1152.9 312.4 1154.0 312.0 1155.1 311.6C1156.1 311.3 1157.2 310.9 1158.3 310.6C1159.4 310.2 1160.5 309.9 1161.5 309.5C1162.6 309.2 1163.7 308.8 1164.8 308.5C1165.9 308.1 1167.0 307.8 1168.0 307.5C1169.1 307.1 1170.2 306.8 1171.3 306.5C1172.4 306.1 1173.5 305.8 1174.5 305.4C1175.6 305.1 1176.7 304.8 1177.8 304.4C1178.9 304.1 1179.9 303.8 1181.0 303.4C1182.1 303.1 1183.2 302.7 1184.2 302.4C1185.3 302.1 1186.4 301.7 1187.4 301.4C1188.5 301.0 1189.6 300.7 1190.6 300.3C1191.7 299.9 1192.7 299.6 1193.8 299.2C1194.8 298.8 1195.9 298.5 1196.9 298.1C1197.9 297.7 1199.0 297.3 1200.0 296.9C1201.0 296.5 1202.0 296.1 1203.1 295.7C1204.1 295.3 1205.1 294.9 1206.1 294.5C1207.1 294.0 1208.1 293.6 1209.1 293.1C1210.1 292.7 1211.1 292.2 1212.0 291.7C1213.0 291.3 1214.0 290.8 1215.0 290.3C1215.9 289.8 1216.9 289.3 1217.8 288.7C1218.8 288.2 1219.7 287.7 1220.6 287.1C1221.6 286.6 1222.5 286.1 1223.4 285.5C1224.4 285.0 1225.3 284.4 1226.2 283.8C1227.1 283.3 1228.1 282.7 1229.0 282.1C1229.9 281.6 1230.8 281.0 1231.7 280.4C1232.7 279.8 1233.6 279.2 1234.5 278.6C1235.4 278.1 1236.3 277.5 1237.3 276.9C1238.2 276.3 1239.1 275.7 1240.0 275.2C1240.9 274.6 1241.9 274.0 1242.8 273.4C1243.7 272.9 1244.7 272.3 1245.6 271.7C1246.6 271.2 1247.5 270.6 1248.4 270.0C1249.4 269.5 1250.3 268.9 1251.3 268.4C1252.3 267.8 1253.2 267.3 1254.2 266.7C1255.1 266.2 1256.1 265.6 1257.0 265.1C1258.0 264.5 1259.0 263.9 1259.9 263.4C1260.9 262.8 1261.8 262.3 1262.8 261.7C1263.8 261.2 1264.7 260.6 1265.7 260.0C1266.6 259.5 1267.6 258.9 1268.5 258.3C1269.5 257.7 1270.4 257.1 1271.4 256.5C1272.3 256.0 1273.3 255.4 1274.2 254.8C1275.1 254.2 1276.1 253.5 1277.0 252.9C1277.9 252.3 1278.8 251.7 1279.8 251.1C1280.7 250.5 1281.6 249.8 1282.5 249.2C1283.4 248.6 1284.3 247.9 1285.2 247.3C1286.2 246.6 1287.1 246.0 1288.0 245.3C1288.9 244.7 1289.8 244.0 1290.7 243.3C1291.6 242.7 1292.5 242.0 1293.3 241.3C1294.2 240.7 1295.1 240.0 1296.0 239.3C1296.9 238.6 1297.8 238.0 1298.7 237.3C1299.6 236.6 1300.4 235.9 1301.3 235.2C1302.2 234.5 1303.1 233.8 1303.9 233.1C1304.8 232.4 1305.7 231.7 1306.6 231.0C1307.4 230.3 1308.3 229.6 1309.2 228.9C1310.0 228.2 1310.9 227.5 1311.8 226.8C1312.6 226.1 1313.5 225.4 1314.4 224.6C1315.2 223.9 1316.1 223.2 1316.9 222.5C1317.8 221.8 1318.7 221.0 1319.5 220.3C1320.4 219.6 1321.2 218.9 1322.1 218.1C1322.9 217.4 1323.8 216.7 1324.6 216.0C1325.5 215.2 1326.4 214.5 1327.2 213.8C1328.1 213.0 1328.9 212.3 1329.8 211.6C1330.6 210.8 1331.5 210.1 1332.3 209.4C1333.2 208.6 1334.0 207.9 1334.9 207.1C1335.7 206.4 1336.6 205.7 1337.4 204.9C1338.3 204.2 1339.1 203.4 1340.0 202.7C1340.8 202.0 1341.7 201.2 1342.5 200.5C1343.4 199.7 1344.2 199.0 1345.0 198.2C1345.9 197.5 1346.7 196.7 1347.6 196.0C1348.4 195.2 1349.3 194.5 1350.1 193.7C1351.0 193.0 1351.8 192.2 1352.6 191.5C1353.5 190.7 1354.3 190.0 1355.2 189.2C1356.0 188.5 1356.8 187.7 1357.7 186.9C1358.5 186.2 1359.4 185.4 1360.2 184.7C1361.0 183.9 1361.9 183.2 1362.7 182.4C1363.5 181.6 1364.4 180.9 1365.2 180.1C1366.1 179.4 1366.9 178.6 1367.7 177.8C1368.6 177.1 1369.4 176.3 1370.2 175.5C1371.1 174.8 1371.9 174.0 1372.7 173.2C1373.5 172.5 1374.4 171.7 1375.2 170.9C1376.0 170.2 1376.9 169.4 1377.7 168.6C1378.5 167.9 1379.3 167.1 1380.2 166.3C1381.0 165.6 1381.8 164.8 1382.7 164.0C1383.5 163.2 1384.3 162.5 1385.1 161.7C1386.0 160.9 1386.8 160.1 1387.6 159.4C1388.4 158.6 1389.2 157.8 1390.1 157.1C1390.9 156.3 1391.7 155.5 1392.5 154.7C1393.3 154.0 1394.2 153.2 1395.0 152.4C1395.8 151.6 1396.6 150.8 1397.4 150.1C1398.2 149.3 1399.1 148.5 1399.9 147.7C1400.7 147.0 1401.5 146.2 1402.3 145.4C1403.1 144.6 1403.9 143.8 1404.8 143.1C1405.6 142.3 1406.4 141.5 1407.2 140.7C1408.0 139.9 1408.8 139.2 1409.6 138.4C1410.4 137.6 1411.2 136.8 1412.0 136.0C1412.8 135.3 1413.6 134.5 1414.5 133.7C1415.3 132.9 1416.1 132.1 1416.9 131.3C1417.7 130.6 1418.5 129.8 1419.3 129.0C1420.1 128.2 1420.9 127.4 1421.7 126.7C1422.5 125.9 1423.3 125.1 1424.1 124.3C1424.9 123.5 1425.7 122.7 1426.5 122.0C1427.3 121.2 1428.1 120.4 1428.9 119.6C1429.7 118.9 1430.5 118.1 1431.3 117.3C1432.2 116.6 1433.0 115.8 1433.8 115.0C1434.6 114.3 1435.5 113.5 1436.3 112.8C1437.2 112.0 1438.0 111.3 1438.9 110.6C1439.8 109.8 1440.6 109.1 1441.5 108.4C1442.4 107.7 1443.3 107.0 1444.2 106.3C1445.2 105.6 1446.1 104.9 1447.0 104.2C1448.0 103.5 1448.9 102.8 1449.9 102.2C1450.9 101.6 1451.9 101.0 1452.9 100.5C1453.9 100.0 1454.9 99.5 1455.9 99.0C1456.9 98.6 1458.0 98.1 1459.0 97.9C1460.1 97.6 1461.2 97.5 1462.3 97.5C1463.4 97.4 1464.5 97.5 1465.6 97.7C1466.7 97.8 1468.4 98.3 1468.9 98.5" stroke="#482677" stroke-width="8.3"/>
<path d="M1467.5 97.8C1467.4 98.4 1467.4 100.2 1467.2 101.3C1467.0 102.4 1466.7 103.4 1466.3 104.4C1465.8 105.4 1465.3 106.3 1464.6 107.2C1464.0 108.1 1463.1 108.9 1462.3 109.7C1461.6 110.6 1460.8 111.4 1460.1 112.3C1459.3 113.1 1458.5 114.0 1457.8 114.8C1457.0 115.6 1456.3 116.5 1455.5 117.3C1454.8 118.2 1454.0 119.0 1453.3 119.9C1452.5 120.7 1451.8 121.6 1451.0 122.4C1450.3 123.3 1449.6 124.1 1448.8 125.0C1448.1 125.8 1447.3 126.7 1446.6 127.5C1445.8 128.4 1445.1 129.2 1444.4 130.1C1443.6 130.9 1442.9 131.8 1442.1 132.6C1441.4 133.4 1440.7 134.3 1439.9 135.1C1439.2 136.0 1438.4 136.8 1437.7 137.7C1436.9 138.5 1436.2 139.4 1435.4 140.2C1434.7 141.0 1433.9 141.9 1433.2 142.7C1432.4 143.6 1431.7 144.4 1430.9 145.3C1430.2 146.1 1429.4 146.9 1428.7 147.8C1427.9 148.6 1427.2 149.4 1426.4 150.3C1425.7 151.1 1424.9 152.0 1424.2 152.8C1423.4 153.6 1422.7 154.5 1421.9 155.3C1421.1 156.1 1420.4 157.0 1419.6 157.8C1418.9 158.6 1418.1 159.5 1417.4 160.3C1416.6 161.1 1415.8 161.9 1415.1 162.8C1414.3 163.6 1413.6 164.4 1412.8 165.3C1412.0 166.1 1411.3 166.9 1410.5 167.7C1409.7 168.6 1409.0 169.4 1408.2 170.2C1407.4 171.0 1406.7 171.9 1405.9 172.7C1405.1 173.5 1404.4 174.3 1403.6 175.2C1402.8 176.0 1402.0 176.8 1401.3 177.6C1400.5 178.4 1399.7 179.2 1399.0 180.1C1398.2 180.9 1397.4 181.7 1396.6 182.5C1395.9 183.3 1395.1 184.1 1394.3 185.0C1393.5 185.8 1392.7 186.6 1392.0 187.4C1391.2 188.2 1390.4 189.0 1389.6 189.8C1388.8 190.6 1388.1 191.4 1387.3 192.2C1386.5 193.0 1385.7 193.8 1384.9 194.7C1384.1 195.5 1383.3 196.3 1382.6 197.1C1381.8 197.9 1381.0 198.7 1380.2 199.5C1379.4 200.3 1378.6 201.1 1377.8 201.9C1377.0 202.7 1376.2 203.5 1375.4 204.3C1374.6 205.0 1373.8 205.8 1373.0 206.6C1372.3 207.4 1371.5 208.2 1370.7 209.0C1369.9 209.8 1369.1 210.6 1368.3 211.4C1367.5 212.2 1366.7 212.9 1365.9 213.7C1365.0 214.5 1364.2 215.3 1363.4 216.1C1362.6 216.9 1361.8 217.7 1361.0 218.4C1360.2 219.2 1359.4 220.0 1358.6 220.8C1357.8 221.5 1357.0 222.3 1356.2 223.1C1355.3 223.9 1354.5 224.6 1353.7 225.4C1352.9 226.2 1352.1 227.0 1351.3 227.7C1350.5 228.5 1349.6 229.3 1348.8 230.0C1348.0 230.8 1347.2 231.6 1346.4 232.3C1345.5 233.1 1344.7 233.9 1343.9 234.6C1343.1 235.4 1342.2 236.1 1341.4 236.9C1340.6 237.7 1339.8 238.4 1338.9 239.2C1338.1 239.9 1337.3 240.7 1336.4 241.4C1335.6 242.2 1334.8 242.9 1333.9 243.7C1333.1 244.4 1332.3 245.2 1331.4 245.9C1330.6 246.7 1329.8 247.4 1328.9 248.2C1328.1 248.9 1327.2 249.6 1326.4 250.4C1325.6 251.1 1324.7 251.9 1323.9 252.6C1323.0 253.3 1322.2 254.1 1321.3 254.8C1320.5 255.5 1319.6 256.3 1318.8 257.0C1317.9 257.7 1317.1 258.5 1316.2 259.2C1315.4 259.9 1314.5 260.6 1313.7 261.4C1312.8 262.1 1311.9 262.8 1311.1 263.5C1310.2 264.2 1309.4 265.0 1308.5 265.7C1307.7 266.4 1306.8 267.1 1305.9 267.8C1305.1 268.5 1304.2 269.2 1303.3 270.0C1302.5 270.7 1301.6 271.4 1300.7 272.1C1299.9 272.8 1299.0 273.5 1298.1 274.2C1297.2 274.9 1296.4 275.6 1295.5 276.3C1294.6 277.0 1293.7 277.7 1292.9 278.4C1292.0 279.1 1291.1 279.8 1290.2 280.5C1289.3 281.2 1288.5 281.9 1287.6 282.5C1286.7 283.2 1285.8 283.9 1284.9 284.6C1284.0 285.3 1283.1 286.0 1282.2 286.6C1281.4 287.3 1280.5 288.0 1279.6 288.7C1278.7 289.4 1277.8 290.0 1276.9 290.7C1276.0 291.4 1275.1 292.0 1274.2 292.7C1273.3 293.4 1272.4 294.0 1271.5 294.7C1270.6 295.4 1269.7 296.0 1268.8 296.7C1267.9 297.4 1267.0 298.0 1266.0 298.7C1265.1 299.3 1264.2 300.0 1263.3 300.6C1262.4 301.3 1261.5 301.9 1260.6 302.6C1259.7 303.2 1258.7 303.9 1257.8 304.5C1256.9 305.2 1256.0 305.8 1255.1 306.4C1254.1 307.1 1253.2 307.7 1252.3 308.4C1251.4 309.0 1250.4 309.6 1249.5 310.3C1248.6 310.9 1247.6 311.5 1246.7 312.1C1245.8 312.8 1244.8 313.4 1243.9 314.0C1243.0 314.6 1242.0 315.3 1241.1 315.9C1240.2 316.5 1239.2 317.1 1238.3 317.7C1237.3 318.3 1236.4 318.9 1235.4 319.6C1234.5 320.2 1233.5 320.8 1232.6 321.4C1231.6 322.0 1230.7 322.6 1229.7 323.2C1228.8 323.7 1227.8 324.3 1226.9 324.9C1225.9 325.5 1225.0 326.1 1224.0 326.7C1223.1 327.3 1222.1 327.9 1221.1 328.4C1220.2 329.0 1219.2 329.6 1218.2 330.2C1217.3 330.7 1216.3 331.3 1215.3 331.9C1214.4 332.4 1213.4 333.0 1212.4 333.6C1211.4 334.1 1210.5 334.7 1209.5 335.3C1208.5 335.8 1207.5 336.4 1206.6 337.0C1205.6 337.5 1204.6 338.1 1203.6 338.7C1202.6 339.2 1201.7 339.8 1200.7 340.3C1199.7 340.9 1198.7 341.5 1197.7 342.0C1196.7 342.6 1195.7 343.1 1194.7 343.7C1193.7 344.3 1192.7 344.8 1191.7 345.4C1190.7 345.9 1189.7 346.5 1188.7 347.1C1187.7 347.6 1186.7 348.2 1185.7 348.8C1184.7 349.3 1183.7 349.9 1182.7 350.5C1181.7 351.0 1180.7 351.6 1179.7 352.2C1178.7 352.7 1177.7 353.3 1176.6 353.9C1175.6 354.4 1174.6 355.0 1173.6 355.6C1172.6 356.1 1171.6 356.7 1170.5 357.3C1169.5 357.8 1168.5 358.4 1167.5 358.9C1166.4 359.5 1165.4 360.1 1164.4 360.6C1163.4 361.2 1162.3 361.7 1161.3 362.3C1160.3 362.8 1159.2 363.4 1158.2 363.9C1157.2 364.4 1156.2 365.0 1155.1 365.5C1154.1 366.0 1153.1 366.5 1152.0 367.0C1151.0 367.5 1150.0 368.0 1149.0 368.5C1147.9 369.0 1146.9 369.5 1145.9 369.9C1144.9 370.4 1143.8 370.9 1142.8 371.3C1141.8 371.8 1140.8 372.2 1139.7 372.7C1138.7 373.1 1137.7 373.6 1136.7 374.0C1135.7 374.4 1134.7 374.9 1133.7 375.3C1132.6 375.8 1131.6 376.2 1130.6 376.6C1129.6 377.1 1128.6 377.5 1127.6 378.0C1126.6 378.4 1125.6 378.9 1124.6 379.3C1123.6 379.8 1122.7 380.2 1121.7 380.7C1120.7 381.1 1119.7 381.6 1118.7 382.1C1117.7 382.6 1116.8 383.1 1115.8 383.5C1114.8 384.0 1113.9 384.5 1112.9 385.1C1111.9 385.6 1111.0 386.1 1110.0 386.6C1109.1 387.1 1108.1 387.7 1107.2 388.2C1106.3 388.8 1105.3 389.4 1104.4 389.9C1103.5 390.5 1102.5 391.1 1101.6 391.7C1100.7 392.3 1099.8 392.9 1098.9 393.5C1098.0 394.1 1097.1 394.7 1096.2 395.4C1095.3 396.0 1094.4 396.7 1093.6 397.3C1092.7 398.0 1091.8 398.7 1091.0 399.3C1090.1 400.0 1089.3 400.7 1088.4 401.4C1087.6 402.1 1086.7 402.8 1085.9 403.5C1085.1 404.2 1084.3 405.0 1083.5 405.7C1082.7 406.4 1081.9 407.2 1081.1 407.9C1080.3 408.7 1079.5 409.5 1078.7 410.2C1077.9 411.0 1077.2 411.8 1076.4 412.6C1075.7 413.4 1074.9 414.2 1074.2 415.0C1073.4 415.7 1072.7 416.6 1072.0 417.4C1071.2 418.2 1070.5 419.0 1069.8 419.8C1069.0 420.6 1068.3 421.4 1067.6 422.3C1066.9 423.1 1066.1 423.9 1065.4 424.7C1064.7 425.5 1063.9 426.4 1063.2 427.2C1062.5 428.0 1061.7 428.8 1061.0 429.6C1060.2 430.4 1059.5 431.3 1058.7 432.1C1058.0 432.9 1057.2 433.7 1056.4 434.5C1055.6 435.2 1054.8 436.0 1054.0 436.8C1053.2 437.6 1052.4 438.4 1051.6 439.2C1050.8 439.9 1049.9 440.7 1049.1 441.4C1048.2 442.2 1047.4 442.9 1046.5 443.7C1045.7 444.4 1044.8 445.2 1044.0 445.9C1043.1 446.7 1042.2 447.4 1041.4 448.2C1040.5 448.9 1039.7 449.7 1038.8 450.4C1038.0 451.2 1037.1 452.0 1036.3 452.7C1035.5 453.5 1034.7 454.3 1033.9 455.1C1033.2 455.9 1032.4 456.7 1031.6 457.5C1030.9 458.4 1030.1 459.2 1029.4 460.0C1028.7 460.9 1028.1 461.8 1027.4 462.7C1026.8 463.6 1026.2 464.5 1025.6 465.4C1025.0 466.4 1024.4 467.3 1023.9 468.3C1023.3 469.3 1022.9 470.3 1022.4 471.3C1021.9 472.3 1021.4 473.3 1021.0 474.3C1020.5 475.4 1020.1 476.4 1019.7 477.4C1019.3 478.5 1018.9 479.6 1018.6 480.7C1018.2 481.7 1017.9 482.8 1017.5 483.9C1017.2 485.0 1016.8 486.1 1016.5 487.2C1016.2 488.3 1015.9 489.4 1015.6 490.5C1015.3 491.6 1015.0 492.7 1014.7 493.8C1014.4 494.9 1014.1 496.0 1013.8 497.1C1013.5 498.2 1013.2 499.3 1013.0 500.5C1012.7 501.6 1012.4 502.7 1012.2 503.8C1011.9 504.9 1011.6 506.0 1011.4 507.1C1011.1 508.2 1010.9 509.3 1010.6 510.4C1010.4 511.5 1010.1 512.6 1009.9 513.7C1009.7 514.8 1009.4 515.9 1009.2 517.1C1009.0 518.2 1008.7 519.3 1008.5 520.4C1008.3 521.5 1008.1 522.6 1007.9 523.7C1007.6 524.8 1007.4 525.9 1007.2 527.0C1007.0 528.1 1006.8 529.2 1006.6 530.3C1006.4 531.4 1006.2 532.5 1006.0 533.6C1005.8 534.7 1005.7 535.8 1005.5 537.0C1005.3 538.1 1005.2 539.2 1005.0 540.3C1004.9 541.4 1004.7 542.5 1004.5 543.6C1004.4 544.7 1004.2 545.9 1004.1 547.0C1003.9 548.1 1003.8 549.2 1003.7 550.3C1003.5 551.4 1003.4 552.6 1003.3 553.7C1003.1 554.8 1003.0 555.9 1002.9 557.0C1002.7 558.1 1002.6 559.2 1002.5 560.4C1002.4 561.5 1002.3 562.6 1002.1 563.7C1002.0 564.8 1001.9 565.9 1001.8 567.1C1001.7 568.2 1001.6 569.3 1001.5 570.4C1001.4 571.5 1001.3 572.7 1001.2 573.8C1001.1 574.9 1001.0 576.0 1000.9 577.1C1000.8 578.3 1000.7 579.4 1000.6 580.5C1000.5 581.6 1000.4 582.7 1000.3 583.9C1000.3 585.0 1000.2 586.1 1000.1 587.2C1000.0 588.3 999.9 589.5 999.9 590.6C999.8 591.7 999.7 592.8 999.6 593.9C999.6 595.1 999.5 596.2 999.4 597.3C999.3 598.4 999.3 599.6 999.2 600.7C999.1 601.8 999.1 602.9 999.0 604.0C999.0 605.2 998.9 606.3 998.8 607.4C998.8 608.5 998.7 609.7 998.7 610.8C998.6 611.9 998.5 613.0 998.5 614.2C998.4 615.3 998.4 616.4 998.3 617.5C998.3 618.7 998.2 619.8 998.2 620.9C998.1 622.0 998.1 623.2 998.0 624.3C998.0 625.4 997.9 626.5 997.9 627.7C997.8 628.8 997.8 629.9 997.7 631.0C997.7 632.2 997.6 633.3 997.6 634.4C997.5 635.5 997.5 636.7 997.5 637.8C997.4 638.9 997.4 640.0 997.3 641.2C997.3 642.3 997.2 643.4 997.2 644.5C997.1 645.7 997.1 646.8 997.1 647.9C997.0 649.0 997.0 650.2 996.9 651.3C996.9 652.4 996.8 653.5 996.8 654.7C996.8 655.8 996.7 656.9 996.7 658.0C996.6 659.2 996.6 660.3 996.5 661.4C996.5 662.5 996.4 663.7 996.4 664.8C996.4 665.9 996.3 667.6 996.3 668.2" stroke="#482677" stroke-width="8.3"/>
</g>
<rect x="1113.0" y="461.8" width="403.3" height="177.8" rx="6" ry="6" fill="#fff" fill-opacity="0.8" stroke="#cccccc" stroke-opacity="0.8" stroke-width="3.3"/>
<circle cx="1167.5" cy="493.5" r="7.8" fill="#b8de29"/>
<text x="1214.8" y="506.7">Reference</text>
<circle cx="1167.5" cy="548.1" r="7.8" fill="#21918c"/>
<text x="1214.8" y="561.3">Compensation</text>
<circle cx="1167.5" cy="602.7" r="7.8" fill="#482677"/>
<text x="1214.8" y="615.9">Reservoir</text>
<text x="1125.0" y="240.8">Charge</text>
<text x="1334.8" y="334.9" textLength="197.4" lengthAdjust="spacing">Discharge</text>
<path d="M1275.7 203.5L1330.3 159.9" stroke="#000" stroke-width="7.3" stroke-linecap="round" fill="none"/><path d="M1343.0 149.7L1335.5 169.3L1322.3 152.8Z" fill="#000" stroke="#000" stroke-width="2.4" stroke-linejoin="round"/>
<path d="M1326.8 348.4L1260.1 380.0" stroke="#000" stroke-width="7.3" stroke-linecap="round" fill="none"/><path d="M1245.3 387.0L1257.2 369.7L1266.2 388.8Z" fill="#000" stroke="#000" stroke-width="2.4" stroke-linejoin="round"/>
<rect x="931.65" y="54.80" width="604.55" height="605.20" fill="none" stroke="#000" stroke-width="3.3"/>
<path d="M931.65 660.00v14.4M1052.56 660.00v14.4M1173.47 660.00v14.4M1294.38 660.00v14.4M1415.29 660.00v14.4M1536.20 660.00v14.4M931.65 54.80h-14.4M931.65 141.26h-14.4M931.65 227.71h-14.4M931.65 314.17h-14.4M931.65 400.63h-14.4M931.65 487.09h-14.4M931.65 573.54h-14.4M931.65 660.00h-14.4" stroke="#000" stroke-width="3.3" fill="none"/>
<text x="931.6" y="718.0" text-anchor="middle">0.0</text>
<text x="1052.6" y="718.0" text-anchor="middle">0.3</text>
<text x="1173.5" y="718.0" text-anchor="middle">0.6</text>
<text x="1294.4" y="718.0" text-anchor="middle">0.9</text>
<text x="1415.3" y="718.0" text-anchor="middle">1.2</text>
<text x="1536.2" y="718.0" text-anchor="middle">1.5</text>
<text x="904.0" y="69.8" text-anchor="end">4.3</text>
<text x="904.0" y="156.3" text-anchor="end">4.1</text>
<text x="904.0" y="242.7" text-anchor="end">3.9</text>
<text x="904.0" y="329.2" text-anchor="end">3.7</text>
<text x="904.0" y="415.6" text-anchor="end">3.5</text>
<text x="904.0" y="502.1" text-anchor="end">3.3</text>
<text x="904.0" y="588.5" text-anchor="end">3.1</text>
<text x="904.0" y="675.0" text-anchor="end">2.9</text>
<text x="1234.3" y="31.1" text-anchor="middle">MLPs</text>
<text x="931.4" y="36.9">(b)</text>
<text x="1233.9" y="771.3" text-anchor="middle">Capacity in Ah</text>
</g>
</svg>
</body></html>
